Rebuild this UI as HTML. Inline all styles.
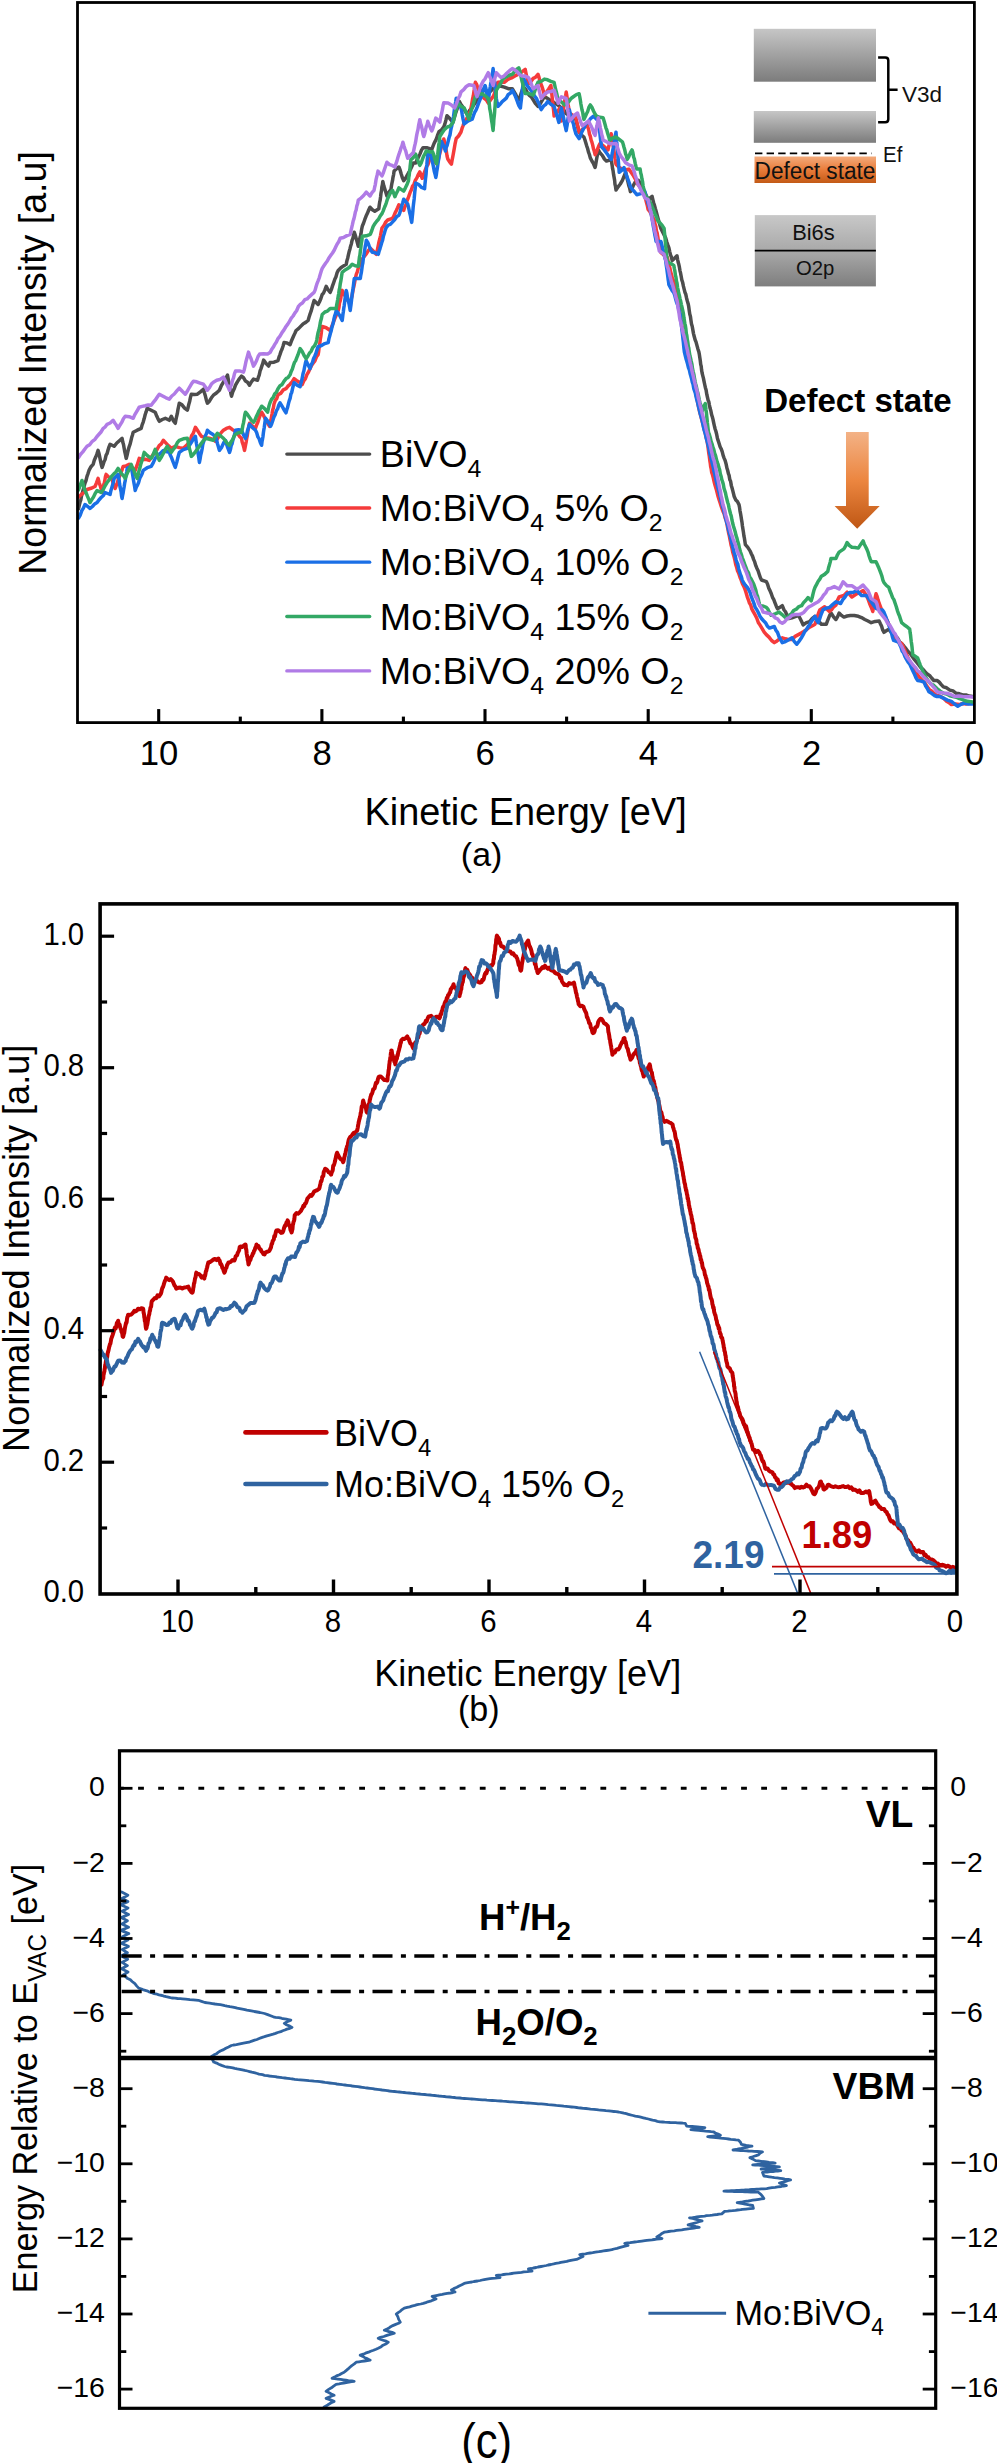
<!DOCTYPE html>
<html><head><meta charset="utf-8"><title>Figure</title>
<style>html,body{margin:0;padding:0;background:#fff;}svg{display:block;}</style>
</head><body>
<svg width="997" height="2463" viewBox="0 0 997 2463" font-family="'Liberation Sans', Arial, sans-serif">
<defs>
<linearGradient id="gGray" x1="0" y1="0" x2="0" y2="1"><stop offset="0" stop-color="#c6c6c6"/><stop offset="1" stop-color="#7c7c7c"/></linearGradient>
<linearGradient id="gGray2" x1="0" y1="0" x2="0" y2="1"><stop offset="0" stop-color="#c8c8c8"/><stop offset="1" stop-color="#a9a9a9"/></linearGradient>
<linearGradient id="gGray3" x1="0" y1="0" x2="0" y2="1"><stop offset="0" stop-color="#a9a9a9"/><stop offset="1" stop-color="#7e7e7e"/></linearGradient>
<linearGradient id="gOr" x1="0" y1="0" x2="0" y2="1"><stop offset="0" stop-color="#f3ab7c"/><stop offset="0.5" stop-color="#e97c3a"/><stop offset="1" stop-color="#c35a16"/></linearGradient>
<linearGradient id="gArr" x1="0" y1="0" x2="0" y2="1"><stop offset="0" stop-color="#f3b286"/><stop offset="0.5" stop-color="#ec8640"/><stop offset="1" stop-color="#bf5714"/></linearGradient>
</defs>
<rect width="997" height="2463" fill="#fff"/>
<g id="plot-a">
<polyline points="78.5,509 79.2,505.6 80,502.3 80.8,500 81.5,496 82.2,493.6 83,490.5 84,486.9 85,483.1 86,480.5 87,476.4 88,473.6 89,470.4 91,466.7 93.1,464.4 94.3,460.2 95.6,457.3 96.8,454.4 98.1,450.4 98.9,453.2 99.7,456.8 100.5,460.8 101.3,464.7 102.1,467.4 103.1,464.6 104.1,461.5 105.1,459.5 106.1,455.1 107.1,453.5 108.1,449.7 109.1,446.6 110.1,444.3 114.1,446.3 116.8,443 119.4,440.7 122.1,438.3 122.8,442.2 123.5,444.5 124.2,448.5 124.8,451.9 125.5,454.8 126.2,458.4 127,455.6 127.8,451.9 128.5,449 129.3,446.3 130.1,444.2 130.9,440.9 131.6,437.8 132.4,435.3 133.2,432.3 137.2,430.2 141.2,428.3 142.2,424.6 143.2,422.1 144.2,418.6 145.2,414.5 146.2,411.7 147.2,408.2 151.2,410.2 155.2,412.2 156.6,415.8 157.9,418.6 159.3,421.3 162.3,419.5 165.3,418.3 169.3,420.3 171.3,416.3 173.3,420.6 175.3,423.3 176,419.3 176.6,416.5 177.3,413.7 178,409.3 178.6,406.5 179.3,403.2 182,404.8 184.6,408.1 187.3,410.2 188.1,407.4 188.9,403.9 189.7,401.2 190.5,397.1 191.3,394.2 194.4,394.5 197.4,394.2 200.4,391.9 203.4,389.2 204.4,392.8 205.4,396.1 206.4,400.2 207.4,403.2 209.4,401.2 211.4,397.8 213.4,395.2 216.4,393 219.4,390.2 221.4,385.5 223.4,382.2 225.4,379 227.5,375.1 228.1,378.3 228.6,381.9 229.2,384.7 229.8,386.8 230.4,390 230.9,393.5 231.5,396.2 232.8,391.8 234.2,388.8 235.5,385.2 237.5,381.6 239.5,378.5 241.5,376.1 243.5,377.7 245.5,381.1 247.5,382.3 249.5,385.2 251.5,381.7 253.5,379.1 257.5,380.2 258.4,377.2 259.2,375.1 260.1,370.9 261,368.6 261.9,365.9 262.7,363.6 263.6,360.1 266.1,363.6 268.6,366.1 270,362.6 274,362.2 278,360.6 279,357.2 280,354.5 281,351.4 282,349.2 283,346.3 284,342.6 287.1,343 290.1,344.6 291.3,341.3 292.5,338.5 293.7,335.7 294.9,333.3 296.1,330.5 298.5,328.6 300.9,326.1 303.3,323.7 305.7,322.4 308.1,320.5 309.1,317 310.1,313.9 311.1,311.2 312.1,307.5 313.1,303.9 314.1,300.5 318.1,304.5 319.5,301.7 320.8,298.7 322.1,294.7 323.5,293.1 324.9,289.9 326.2,286.4 328.2,290 330.2,292.4 331.3,289.7 332.5,285.9 333.6,282.8 334.8,279.2 335.9,276.9 337.1,272.8 338.2,270.4 340.9,267.7 343.5,265.9 346.2,264.3 346.9,260.8 347.7,258.2 348.4,254.8 349.1,251.8 349.9,249.2 350.6,246.2 351.4,243.7 352.1,240.2 352.8,238.6 353.6,235.3 354.3,232.2 355.3,235.2 356.3,238.9 357.3,242.5 358.3,246.3 359,242.7 359.6,239 360.3,236.8 361,233.7 361.6,229.5 362.3,226.2 363.6,223 364.9,219.2 366.1,216.1 367.4,213.3 368.7,210 370,207.2 372.4,209.7 374.8,211.2 378.8,208.8 379.2,205.2 379.7,202 380.1,200.4 380.6,196.7 381,193.1 381.5,190.7 381.9,186.8 382.4,184.6 382.8,181.5 383.8,185.9 384.9,189.3 385.9,192.6 386.9,195.9 388.9,192.3 390.9,189.5 391.4,186.2 392,182.8 392.5,180.7 393,177.3 393.6,174.6 394.1,171.1 396.5,168.8 398.9,167 400.1,170 401.3,174.3 402.5,178.1 403.7,180.7 405.7,178.1 407.7,174.3 409.1,172 410.5,169.2 411.9,166.2 413.3,163 415.7,163 417.2,159.5 418.6,156.9 420.1,153.6 421.5,150.1 423,147.8 427.4,147.8 431.8,149.4 433,146.1 434.2,143.1 435.4,140.9 436.6,138.3 437.8,134.6 439,131.7 441.4,130 443.8,126.9 444.9,123.9 445.9,120.2 447,115.7 450,118.8 453,122.4 453.9,119 454.8,116 455.7,113 456.7,110 457.6,107.7 458.5,105.1 459.4,101.5 461,104.6 462.6,106.6 464.2,109.5 465.8,112.3 467.4,114.4 469.5,110.5 471.7,108.3 473.8,104.8 475.4,102.6 477,99.5 478.6,96.5 480.2,93.2 481.8,90.3 485.9,90.6 489.9,91.9 492,89.7 494.2,86.3 496.3,83.9 500.3,86 504.3,87.1 508.3,88.7 512.3,88.7 513.9,91.3 515.5,94.1 517.2,97.8 518.8,99.9 520,97.1 521.2,93 522.4,89.7 523.6,87.1 525.5,89.1 527.4,92.9 529.4,95.3 531.3,96.8 533.2,99.9 535.6,103.7 538,106.4 540.1,103.9 542.3,100.2 544.4,96.7 547.1,98.1 549.8,100 552.5,101.5 555,103.3 558.2,105.1 561.4,108.1 563.5,109.5 565.7,113.2 567.8,114.6 570.5,116.4 573.2,117.8 575.9,119.4 576.7,123.3 577.5,125.7 578.3,129.6 579.1,132.2 581.5,135.1 583.9,137 584.8,139.5 585.7,142.6 586.6,145.6 587.6,148.5 588.5,152.1 589.4,154.5 590.3,157.9 591.9,161 593.5,163.7 595.1,167.5 595.7,164.6 596.4,160.2 597,156.9 597.7,153.6 598.3,149.9 600.3,153.3 602.3,155.4 604.4,159 606.4,161.1 611.2,159.5 611.7,162.6 612.2,165.7 612.6,168.7 613.1,170.9 613.6,174.7 614.1,177.3 614.6,180.1 615,184.4 615.5,186.4 616,190 618.1,186.8 620.3,184 622.4,180.4 624,176.4 625.6,172.3 626.4,175.2 627.2,178.8 628,182 628.8,185.6 629.6,187.8 630.4,191.6 632,188.5 633.6,184.8 635.2,182 638.5,180.4 641.7,185.2 643,187.7 644.3,191.4 645.5,193.9 646.8,196.8 648.1,199.6 652.1,196.4 652.9,199.8 653.7,203 654.5,205.3 655.3,208.5 656.1,211.3 656.9,214.3 657.7,217.3 658.8,221.3 659.8,224.7 660.9,228.5 662.5,231.8 664.1,234.9 665.7,238.1 666.8,242 667.8,244.9 668.9,247.8 669.7,251.6 670.5,254.9 671.4,257 672.2,260.6 674.6,258.3 677,255.8 677.6,259.5 678.2,262.4 678.8,264.3 679.4,267.2 680,270.8 680.6,273.2 681.2,276.5 681.8,279.9 682.6,282.2 683.4,286.2 684.2,289.4 685,292.5 685.8,294.3 686.6,298.2 687.4,301.2 688.2,303.9 688.7,306.5 689.3,311 689.8,314.3 690.4,316.3 690.9,320 691.5,323.9 692.2,326.2 692.8,329.6 693.5,333.6 694.1,336 695.1,339.8 696,341.9 697,345.6 697.9,348.9 698.9,352.1 699.4,354.8 699.8,357.6 700.3,360.8 700.7,364.4 701.2,366.3 701.6,370.1 702.1,373 702.8,375.8 703.4,378.1 704.1,381.6 704.8,385 705.4,387.7 706.1,390 706.8,394.4 707.4,397 708.1,400.2 708.8,401.8 709.4,405 710.1,408.3 710.8,410.5 711.6,414.6 712.3,416.7 713,419.4 713.7,422.8 714.5,426.5 715.2,429.2 715.9,431.3 716.6,434 717.4,438.2 718.1,440.4 719.1,443.5 720.1,446.7 721.1,448.7 722.2,451.7 723.2,455.7 724.2,458.3 725.2,460.7 726.2,464.4 726.9,468 727.7,470.5 728.4,473.6 729.1,475.4 729.8,479.6 730.6,481.2 731.3,485.4 732,487.7 732.7,490.4 733.5,493.7 734.2,496.5 735.8,499.9 737.4,501.5 739,504.6 739.5,507.1 740,510.8 740.5,513.4 741,516.3 741.5,519.5 742,522.4 742.4,525.7 742.9,529 743.4,532 743.9,535.9 744.4,538.2 744.9,541.6 745.4,544.7 747.8,547.4 750.2,551.1 751.3,553.7 752.5,556.1 753.6,559.4 754.7,561.9 755.9,565.9 757,568.5 758.1,570.8 759.2,574.2 760.4,577.8 761.5,580 766.3,581.6 767.5,584 768.8,588.2 770,590.6 771.3,593.7 772.5,597.3 773.8,599.6 775,602.8 776.3,606.2 777.5,608.9 782.3,605.7 783.9,609.7 785.5,611.8 787.2,615.8 788.8,618.5 792,617.8 795.2,616.6 798.4,615.3 800,618.3 801.6,621.5 803.2,624.9 806.4,622.6 809.6,621.7 812.3,618.4 815,616.3 817.1,618.3 819.3,622 821.4,624.3 826.2,624.3 827.4,621.1 828.6,618.2 829.8,615.2 831,613.1 833.5,616.8 835.9,619.5 837.5,616.9 839.1,613.1 841.5,615.4 843.9,617.1 847.1,616 850.3,615.5 854.3,615.5 858.3,616.3 861.5,617.6 864.8,619.5 868,621 871.2,622.7 875.2,621.4 879.2,621.1 880.4,623.8 881.6,626.3 882.8,630.2 884,632.3 888.8,629.1 890.9,632 893.1,633.5 895.2,635.6 897.4,637.9 899.5,641.7 901.7,643.6 903.8,646 906,648.7 908.1,651.6 910.2,653.5 912.4,656.7 914.5,659.6 916.6,662.2 918.8,664.9 920.9,667.6 923,669.3 925.2,671.9 927.3,674.1 929.5,675.4 931.6,678 933.8,680.5 937,680.5 939.1,682 941.3,684.6 943.4,686.9 946.6,687.8 949.8,690.1 953,690.9 956.2,693.3 959.5,693.8 962.7,694.9 966,695 969.2,696.1 972.5,696.5" fill="none" stroke="#4d4d4d" stroke-width="3.5" stroke-linejoin="round" stroke-linecap="round" />
<polyline points="78.5,497 81.3,494.5 84.2,492.4 87,489.5 91,488.3 95,486.5 96.5,482.8 98.1,478.4 99.1,482.5 100.1,485.3 101.1,488.7 102.1,492.5 102.8,490.3 103.4,485.9 104.1,483.8 104.8,480.7 105.4,476.7 106.1,474.4 109.1,477.4 112.1,479.4 113.1,483.1 114.1,485.7 115.1,488.5 116.2,485.7 117.4,482.7 118.5,478.5 119.7,475.9 120.8,472.7 122,470.1 123.1,466.4 126.1,465.9 129.2,464.4 132.2,467.9 135.2,470.4 136.2,467.5 137.2,465 138.2,461.7 139.2,458.4 142.5,459.4 145.9,459.3 149.2,460.4 151.2,457 153.2,454.5 155.2,452.4 157.2,449.2 159.2,445.7 161.3,443.9 163.3,440.3 166,443.1 168.6,445.9 171.3,448.4 175.3,446.3 179.3,447.6 183.3,448.4 186.3,445.6 189.3,442.3 190.5,439.3 191.7,435.5 193,433.8 194.2,430.7 195.4,427.3 197.4,430.3 199.4,433.4 201.4,436.3 205.4,437.6 209.4,438.3 212.4,439.1 215.4,441.3 217.4,438.9 219.4,435.4 221.4,432.4 223.4,430.3 226.4,428.4 229.5,427.3 232.5,429.7 235.5,431.3 237.5,433.2 239.5,436.4 241.5,438.3 242.2,442.1 243,444.3 243.8,447.2 244.5,450.4 245.1,447.4 245.6,444.7 246.2,441.8 246.7,438.5 247.3,435.6 247.8,431.7 248.4,428.8 248.9,425.9 249.5,423.3 252.5,426.2 255.5,428.3 256.7,424.8 257.9,422 259.2,417.9 260.4,414.7 261.6,412.2 263.2,414.7 264.8,418.1 266.4,421 268,423.8 269.6,426.3 270.2,422.8 270.9,420 271.5,416.7 272.1,413.5 272.7,409.8 273.4,407.8 274,404 275.3,400.4 276.7,398.6 278,394.7 280.7,393.4 283.3,389.9 286,388.7 288,386.1 290.1,384.2 292.1,381.9 294.1,378.7 296.8,380.6 299.4,382.3 302.1,384.7 303.7,381 305.3,379 306.9,374.6 308.5,372 310.1,368.6 311.7,365.2 313.3,363 314.9,360.9 316.5,356.8 318.1,354.6 318.6,352 319,348.4 319.5,345.9 319.9,342.4 320.4,338.6 320.8,336.5 321.3,332.7 321.7,328.9 322.2,326.5 326.2,327.7 330.2,330.5 331.3,327.6 332.5,324.7 333.6,321.6 334.8,318.5 335.9,316 337.1,313.1 338.2,310.5 338.9,307.7 339.5,303 340.2,300.9 340.9,297.6 341.5,293.1 342.2,290.4 343.8,293.9 345.4,296.4 347,299.5 348.6,301.3 350.2,304.5 350.8,301.3 351.4,298.3 352,296.3 352.6,292.6 353.2,289.2 353.9,286.3 354.5,283.1 355.1,279.7 355.7,276.8 356.3,274.4 357.3,271.9 358.3,268 359.3,266 360.3,262.3 362.3,259.1 364.3,256.3 366.3,253.9 368.3,250.6 370.3,248.3 373.3,251.1 376.3,254.3 377,251.7 377.7,248.3 378.4,244.9 379.1,241.4 379.9,238.5 380.6,235.3 381.3,231.4 382,228 383.9,225.7 385.8,221.9 387.7,220 392.5,218.4 393.8,216.1 395.1,212.9 396.3,210.6 397.6,207.8 398.9,204.8 401.3,207.3 403.7,210.4 404.8,206.7 405.9,205.1 407,200.8 408.1,198.3 409.2,195.1 410.3,192 411.4,189.7 412.5,186.3 414,184.2 415.4,180.2 416.9,177.9 418.3,174.5 419.8,171.9 421,175.2 422.2,178.3 423.3,175.3 424.5,172 425.6,169.1 426.8,166.3 427.9,164.6 429.1,161.1 430.2,158.2 433.5,160.7 436.9,164.1 437.8,161.6 438.6,158.6 439.5,154.6 440.4,151 441.2,147.9 442.1,144.6 442.9,141.9 443.8,139 444.5,141.7 445.1,145.2 445.8,148.6 446.5,152.4 447.1,156.3 447.8,159 449.6,161.9 451.4,164.1 452,160.8 452.6,157.6 453.2,154.5 453.8,151.1 454.4,147.8 455,144.2 455.6,141.3 456.2,138.5 458.6,136 461,132 462.1,128.2 463.1,125.6 464.2,122.4 465.8,119.8 467.4,117.4 469,113.5 470.6,111.2 471.1,107.6 471.7,104.4 472.2,101.4 472.7,98.3 473.3,95.9 473.8,92.5 474.3,89.3 474.9,84.7 475.4,82.3 476.6,84.4 477.8,88.2 479,91.3 480.2,93.5 482.2,95.9 484.2,98.4 486.3,99.9 488.3,103.1 490.7,99.7 493.1,96.7 494.1,94.5 495,91.5 496,88.6 496.9,85.9 497.9,82.3 501.1,81.9 504.3,82.3 507,80.1 509.6,78.5 512.3,77.5 514.9,75.9 517.5,74.6 520,73.3 522.6,71.4 525.2,69.4 526,73.3 526.8,77.1 527.6,80.2 528.4,83.9 530.8,81.6 533.2,78.4 535.6,77.2 538,74.3 538.9,76.8 539.8,80.9 540.7,83.4 541.7,85.9 542.6,88.6 543.5,91.7 544.4,95.1 546.6,92.1 548.7,89 550.9,85.5 551.2,87.9 551.5,90.9 551.9,94.7 552.2,97.8 552.5,100.6 552.8,103.4 553.1,107 553.5,109.1 553.8,112.6 554.1,116 556,113.3 557.8,111.4 559.7,108 560.1,111.5 560.5,115.1 561,117.7 561.4,121 561.9,117.4 562.5,114.2 563,112.1 563.5,108.5 564.1,104.6 564.6,101 565.1,98.5 565.7,95.6 566.2,92.1 566.7,95 567.1,97.7 567.6,101.3 568,104.7 568.5,106.6 568.9,109.3 569.4,113 572.6,115.1 575.9,117.8 576.7,121.3 577.5,125.3 578.3,128.1 579.1,132.2 581.8,130 584.4,127.2 587.1,124.2 587.9,127.3 588.7,129.8 589.5,134.1 590.3,136.1 591.1,140 591.9,142.1 592.7,145.1 593.5,149 594.3,151.3 595.1,154.7 596.3,152.6 597.5,149.1 598.8,145.8 600,143.5 602.7,145.2 605.3,147.6 608,149.9 608.6,146.9 609.3,144.2 609.9,139.7 610.6,136.8 611.2,133.8 611.7,136.4 612.2,140.7 612.6,142.4 613.1,145.3 613.6,148.3 614.1,151.9 614.6,155.8 615,158.8 615.5,161.6 616,164.3 619.2,167.5 622.4,169.1 625.6,169.8 628.8,169.1 630.9,172.1 633.1,175.1 635.2,178.8 636.8,182.4 638.4,185.1 640,186.9 641.7,190.8 643.3,193.3 644.9,196.4 645.7,199.4 646.5,202.6 647.3,205.5 648.1,209.3 649.7,211.3 651.3,214.5 652.9,217.5 654.5,220.5 655.1,224.4 655.8,226.3 656.4,230.9 657.1,232.9 657.7,236.3 658.3,240.3 659,243.5 659.6,246.1 660.3,248.7 660.9,252.6 664.1,255 667.3,257.4 668.1,260.8 669,265.3 669.8,267.7 670.6,271.8 671.5,274.6 672.4,278.4 673.3,280 674.3,283.6 675.2,287.2 676.1,290.1 677,292.7 677.4,295 677.9,298 678.3,301.1 678.8,305.5 679.2,307.5 679.7,311.3 680.1,314.6 680.6,316.7 681,320 681.5,322.8 682,327.2 682.5,329.8 683,332.5 683.5,336.4 684,339 684.5,342.1 685,344.9 685.5,349.3 686,352.1 686.8,355.8 687.6,358.3 688.4,361.8 689.2,363.4 690.1,366.7 690.9,370.1 691.7,373.9 692.5,376.2 693.1,380.1 693.8,382.4 694.4,385.4 695.1,388.9 695.7,392.2 696.3,396.1 697,398.2 697.6,402.4 698.3,405.5 698.9,408.3 699.6,411.7 700.4,414.6 701.1,417.2 701.8,419.7 702.5,422.6 703.3,425.6 704,429.2 704.7,431 705.4,434.1 706.2,437.9 706.9,440.4 707.4,443.2 707.9,446.1 708.3,449.3 708.8,453.3 709.3,456.2 709.8,460.4 710.3,463.5 710.7,466.9 711.2,468.9 711.7,472.5 712.5,474.8 713.3,477.9 714.1,481.5 714.9,484.8 715.7,487.4 716.5,490.1 717.3,493.4 718.1,496.5 719.1,499.7 720.1,502.8 721.1,505.9 722.2,509.1 723.2,511.8 724.2,514 725.2,518.1 726.2,520.6 726.8,523.3 727.4,526.7 728,529.4 728.6,533 729.2,535.2 729.8,538.3 730.4,541.3 731,544.7 731.8,547.4 732.6,551.7 733.4,554.5 734.2,557.3 735,560.6 735.8,564.8 736.6,567.2 737.4,570.4 738.7,573.2 740,577.3 741.2,580.2 742.5,584 743.8,586.4 744.9,589 746.1,592.8 747.2,596.6 748.4,599.8 749.5,603.1 750.7,605 751.8,608.9 753.4,611.8 755,614.7 756.7,618 758.3,622.5 759.9,624.9 762,628.3 764.2,632.1 766.3,634.6 769,637.1 771.6,640.5 774.3,642.6 777,640.9 779.6,639 782.3,637.8 785.5,638.8 788.8,639.6 792,639.4 795.2,636.4 798.4,634.6 801.1,633.1 803.7,631.5 806.4,629.7 809.2,627.4 812,626 815,624.3 816,621.2 816.9,618 817.9,615.2 818.8,612.4 819.8,609.9 824.6,606.7 827,609.3 829.4,611.5 831.6,609.6 833.7,606.8 835.9,605.1 837.5,600.3 839.1,597 843.9,595.4 847.1,592.2 849.5,594.3 851.9,597 856.7,593.8 859.9,592.5 863.1,590.6 866.4,595.4 868,598.9 869.6,603.5 871.2,607.2 872.8,611.5 873.4,607.5 874.1,604.9 874.7,601 875.4,596.6 876,593.8 877.1,596.4 878.1,600.1 879.2,603.5 880.8,607.6 882.4,611.5 884,614.9 885.6,617.2 887.2,620.6 888.8,624.3 890.1,627.5 891.4,630 892.6,632.7 893.9,635.6 895.2,638.8 898.5,641.9 901.7,643.6 903,646.2 904.3,649.5 905.5,652 906.8,655 908.1,658 909.7,661.8 911.3,665.2 912.9,667.5 914.5,670.9 916.6,673.1 918.8,676.6 920.9,678.9 923,681.1 925.2,683.4 927.3,686.9 929.5,689.7 931.6,691 933.8,693.3 937,695.4 940.2,696.3 943.4,698.1 946.1,700.9 948.7,702.4 951.4,704.6 955.4,704.1 959.4,704.6 962.7,703.4 966,703.9 969.2,703.6 972.5,703" fill="none" stroke="#f53b3b" stroke-width="3.5" stroke-linejoin="round" stroke-linecap="round" />
<polyline points="78.5,518 80.1,515.3 81.8,510.6 83.4,508.1 85,504.5 87.5,506.3 90,508.5 92.4,506.5 94.7,503.9 97.1,502.5 99.1,499.7 101.1,497.5 103.1,495.7 105.1,492.5 110.1,494.5 110.9,490.7 111.7,488 112.5,485.3 113.3,482.4 114.1,478.4 118.1,474.4 118.6,476.9 119.1,479.8 119.6,484.1 120.1,487.2 120.6,489.4 121.1,491.8 121.6,496.2 122.1,498.5 122.6,495.3 123.1,493.1 123.6,489.7 124.1,487 124.7,482.9 125.2,480.9 125.7,477 126.2,474.3 126.7,472 127.2,468.4 131.2,466.4 131.7,469.9 132.2,471.9 132.7,475 133.2,478.3 133.7,481.5 134.2,484.3 134.7,486.9 135.2,490.5 136.3,487.2 137.5,485.1 138.6,482.5 139.8,478.3 140.9,476.2 142.1,473.7 143.2,470.4 147.2,467.7 151.2,466.4 153.2,462.9 155.2,458.4 157.9,455.1 160.6,453.2 163.3,450.4 166.3,451.5 169.3,452.4 170.5,455.6 171.7,458.1 172.9,461.3 174.1,464.5 175.3,467.4 176.1,464.3 176.9,461.7 177.7,458.3 178.5,455.3 179.3,452.4 183.3,449.6 187.3,448.4 189.3,445.6 191.4,442.3 193.4,438.9 195.4,436.3 195.9,440 196.4,443.3 196.9,446 197.4,448.8 197.9,452.6 198.4,455.2 198.9,458.5 199.4,462.4 200.1,458.9 200.7,455 201.4,452.3 202.1,449 202.7,444.9 203.4,442.3 204.4,439.5 205.4,435.6 206.4,433.7 207.4,430.3 210.1,432.7 212.7,434.3 215.4,436.3 216.4,439.1 217.4,443.4 218.4,446.7 219.4,450.4 221.4,447.8 223.5,443.1 225.5,440.3 226.5,443.9 227.5,447.1 228.5,449.7 229.5,452.4 230.4,449.7 231.2,445.6 232.1,443.7 232.9,439.8 233.8,437.3 234.6,434.1 235.5,430.3 238.5,429.8 241.5,430.3 243.5,434.8 245.5,438.3 246.5,435.5 247.5,430.6 248.5,427.6 249.5,424.3 252.5,427.7 255.5,430.3 256.7,432.8 257.9,436.9 259.2,438.9 260.4,442.8 261.6,445.3 262,441.7 262.5,439.3 262.9,437 263.4,432.8 263.8,429.9 264.3,427.3 264.7,424 265.2,420.6 265.6,418.3 267.3,420.5 268.9,423.1 270.6,426.3 271.7,423.8 272.9,420.3 274,416.8 275.2,414.6 276.4,410.7 277.6,408.9 278.8,405 280,402.8 282,406.2 284,409.7 286,412.8 286.8,409.6 287.6,407.4 288.4,403.9 289.2,400.9 290.1,398.4 290.9,394.1 291.7,392.5 292.5,388.9 293.3,385.5 294.1,382.7 297.1,385.2 300.1,386.7 300.9,383.1 301.6,381 302.4,377 303.1,373.4 303.9,370.8 304.6,367 305.4,363.3 306.1,360.6 308.1,365 310.1,368.6 311.2,364.7 312.4,362.8 313.5,358.8 314.7,356.3 315.8,353.7 317,349.9 318.1,346.6 321.5,345.5 324.8,343.6 328.2,342.6 328.9,338.9 329.7,336 330.4,333.3 331.1,331.1 331.8,327.9 332.6,325.1 333.3,322.8 334,318.7 334.7,315.9 335.5,313.7 336.2,310.5 338.2,313.1 340.2,316.4 342.2,320.5 342.6,317.3 343,313.9 343.4,311.2 343.8,308 344.2,305.6 344.6,302.6 345,299 345.4,296.6 345.8,293.4 346.2,290.4 346.9,293.2 347.5,297.8 348.2,300 348.9,303.2 349.5,306.5 350.2,310.5 350.6,307.5 351,304.7 351.4,301.3 351.8,297.5 352.2,294.1 352.7,290.5 353.1,288.3 353.5,284.9 353.9,281.4 354.3,278.4 357.3,278.6 360.3,278.4 360.8,275.1 361.3,272.7 361.8,269.2 362.3,265.3 362.8,263.2 363.3,258.6 363.8,256.2 364.3,252.8 364.8,249.4 365.3,245.9 365.8,243.9 366.3,240.3 367.8,242.5 369.3,246.4 370.8,250 372.3,252.3 375.3,252.7 378.3,254.3 379.2,250.9 380,248.6 380.9,245.5 381.7,242.8 382.6,240.2 383.4,236.2 384.3,233.5 385.1,230.6 386,228 388.1,225.1 390.3,224.4 392.4,222.1 394.6,219.8 396.8,216.5 398.9,215.2 399.9,212.6 400.8,209.2 401.8,205.5 402.7,202.8 403.7,199.2 405.7,201.5 407.7,204 408.4,206.6 409,209.5 409.7,212.8 410.4,215.5 411,219.1 411.7,222.4 412,219.8 412.3,216.7 412.6,213.9 412.9,210.6 413.2,206.9 413.5,204.3 413.9,201.1 414.2,198.7 414.5,195.2 414.8,191.8 415.1,189.4 415.4,186.9 415.7,183.1 418.7,184.5 421.6,187.4 424.6,188.7 424.9,184.8 425.2,182 425.5,178.9 425.8,176.5 426.1,173.7 426.3,170.3 426.6,166.5 426.9,164.2 427.2,160.2 427.5,156.9 427.8,154.2 431,155 431.7,158.9 432.4,161.6 433.1,165 433.7,168.1 434.4,171.8 435.1,174.2 435.8,177.5 436.3,175 436.7,171.8 437.2,169 437.7,165.4 438.1,162.8 438.6,159.6 439.1,156.1 439.5,153 440,150.6 440.5,146.7 440.9,145.1 441.4,141.4 442.7,144 444.1,147 445.4,151 446.3,147.2 447.2,145.2 448.2,141.1 449.1,137.5 450,134.9 450.6,131 451.2,127.9 451.8,125.8 452.4,122.6 453,119.2 453.5,116.5 453.9,113.6 454.4,109.5 454.8,107.4 455.3,104.1 455.7,101.8 456.2,98.3 457.8,102 459.4,105.4 461,108 461.6,110.5 462.3,115 462.9,118.3 463.6,121.5 464.2,124 466.9,121.8 469.5,120.3 472.2,119.2 473.5,115.4 474.8,112 476,110.1 477.3,106.8 478.6,103.1 479.7,100.4 480.8,97.8 481.9,94.5 482.9,91 484,87.8 485.1,85.5 485.9,88.5 486.7,93.1 487.5,95.8 488.3,99.9 488.8,96.5 489.3,93.5 489.7,89.7 490.2,87 490.7,83.9 491.2,81.5 491.7,77.8 492.1,74.6 492.6,72.5 493.1,68.6 493.5,71.9 493.8,75.8 494.2,78.7 494.5,81 494.9,85 495.2,88.3 495.6,92.1 495.9,94.8 496.3,98.3 497.1,102.7 497.9,106.4 500,104.3 502.2,101.6 504.3,99.9 506.3,98.1 508.3,94.4 510.3,93.2 512.3,90.3 513.6,92.7 515,95.4 516.3,98.7 517.7,102.5 519,105.8 520.4,108 520.8,104 521.1,101.6 521.5,98.4 521.8,95.6 522.2,91.4 522.5,88.7 522.9,85.3 523.2,82.8 523.6,79.1 525.2,81.4 526.8,85.1 528.4,87.1 530.4,89.6 532.4,92.2 534.4,95.8 536.4,98.3 537.6,101.1 538.8,103.3 540,107 541.2,109.6 543.4,106.2 545.5,104.7 547.7,101.5 550.9,104.3 554.1,106.4 555.1,110.1 556,113 557,115.8 557.9,119 558.9,122.4 559.5,118.7 560.1,115.9 560.8,111 561.4,108.1 562.1,111.9 562.8,113.8 563.5,117.3 564.1,120.6 564.8,124.8 565.5,127.4 566.2,130.6 566.7,127.4 567.1,125.3 567.6,121.3 568,118.7 568.5,115.8 568.9,113.2 569.4,109.8 570.2,113.2 571,116 571.8,118.6 572.6,121.5 573.5,124.2 574.3,128.3 575.1,131.1 575.9,133.8 579.1,138.6 580.4,136.1 581.7,132.3 582.9,129.9 584.2,127.5 585.5,124.2 588.2,121.7 590.8,118.3 593.5,116.2 595.9,118.5 598.3,121 598.7,124.8 599.1,127 599.5,130.1 599.9,133.5 600.3,137.4 600.7,140.8 601.1,142.9 601.5,146.7 603.4,148.7 605.4,151.4 607.3,154.1 609.3,157 611.2,159.5 611.7,155.9 612.3,153.2 612.8,149.9 613.3,148.1 613.9,144.7 614.4,140.7 614.9,139 615.5,134.6 616,132.2 616.2,135.1 616.5,139.1 616.7,141.9 617,144.9 617.2,147.5 617.5,150.2 617.7,154 618,156.2 618.2,159.5 618.5,162.9 618.7,165.4 619,169.1 619.2,172.3 621.6,170.4 624,167.5 625.1,171 626.1,173.9 627.2,177.4 628.3,180.3 629.3,183 630.4,186.8 632.5,189.6 634.7,192 636.8,194.8 640.8,193.6 644.9,191.6 645.8,195.5 646.7,197.9 647.6,201.4 648.6,204.9 649.5,207.5 650.4,210.5 651.3,214.1 651.8,217.5 652.4,220.8 652.9,223.6 653.4,226.6 654,229.8 654.5,232.6 655,235.6 655.6,238.3 656.1,241.4 660.9,241.4 661.7,244.3 662.5,248 663.3,250.4 664.1,254.1 664.9,257.9 665.7,260.6 666.1,264 666.5,266.8 666.9,269.2 667.3,272.5 667.7,275.6 668.1,278.9 668.5,281.5 668.9,284.7 670.5,287.6 672.2,290.7 673.8,292.7 674.7,295.2 675.6,298.9 676.5,302.1 677.5,304.5 678.4,307.6 679.3,311.4 680.2,313.6 680.6,316.1 680.9,320.1 681.2,322.7 681.6,326.9 682,330.3 682.3,332.9 682.6,335.4 683,339.4 683.4,342.5 683.7,346 684,348.9 684.4,352.1 685.2,355.3 686,358.7 686.8,361.2 687.6,364 688.5,367.9 689.3,369.7 690.1,373.5 690.9,376.2 691.6,378.9 692.4,382.5 693.1,384.4 693.8,388.6 694.5,390.6 695.3,393 696,396.3 696.7,399.4 697.4,401.7 698.2,405.3 698.9,408.3 699.6,411.1 700.4,414.5 701.1,416.8 701.8,419.6 702.5,422.4 703.3,426.2 704,429.4 704.7,431.7 705.4,434.1 706.2,438 706.9,440.4 707.6,443.2 708.3,446 709,448.8 709.7,452.9 710.4,455.9 711.1,458.7 711.8,461.4 712.5,464.5 713.2,467 713.9,471.2 714.6,473.2 715.3,476.7 716,480 716.7,483 717.4,485.4 718.1,488.5 718.8,491.1 719.6,494.4 720.3,496.7 721,500.7 721.8,502.9 722.5,506.6 723.3,508.6 724,511.6 724.7,514.4 725.5,517.6 726.2,520.6 726.9,523 727.7,525.6 728.4,529.7 729.1,531.9 729.8,534.8 730.6,537.8 731.3,541 732,543.8 732.7,547.1 733.5,550 734.2,552.7 735.1,555.5 736,559.5 736.9,562.4 737.8,564.1 738.6,568.4 739.5,571.5 740.4,574.4 741.3,576.4 742.2,580 743.8,583.1 745.4,585.3 747,586.9 748.6,589.5 750.2,592.8 751.2,596.4 752.2,598.8 753.1,601.1 754.1,603.8 755.1,607.3 756.7,609.5 758.3,612.5 759.9,616.1 761.5,618.5 763.5,620.7 765.5,622.7 767.5,626.3 769.5,628.1 774.3,626.5 775.9,630.2 777.5,632.4 779.1,636.8 780.7,639.6 782.3,642.6 785.5,641.5 788.8,639.7 792,637.8 794.4,641.6 796.8,644.2 798.9,641.5 801.1,638.3 803.2,634.6 804.8,631.5 806.4,629.7 808,626.9 809.6,624.7 811.2,621.7 813.1,618.9 815,616.3 816.6,620.1 818.2,622.7 819.4,619.6 820.6,615.9 821.8,612.7 823,609.9 826.2,608.1 829.4,607.5 832.6,604.6 835.9,601.8 840.7,603.5 842.8,599.6 845,597 847.1,593.8 850.3,592.4 853.5,592.2 856.7,590.6 859.1,593 861.5,595.4 866.4,595.4 868.8,598.6 871.2,601.8 873.6,605.1 876,608.3 879.2,609.7 882.4,609.9 884,612.3 885.6,616.3 886.8,620 888,622.6 889.2,626 890.4,629.1 891.5,633.1 892.5,637.2 893.6,640.4 898.5,642 899.8,644.7 901.1,647.6 902.3,651.4 903.6,652.8 904.9,656.4 906.5,659.4 908.1,662.2 909.7,664 911.3,667.6 912.9,671 914.5,674.3 916.1,678 917.7,680.5 920.9,681 924.1,682.1 925.7,686.1 927.3,688.5 928.9,691.7 931.6,693.3 934.3,695.5 937,696.5 940.2,696.6 943.4,698.1 947.4,700.1 951.4,701.4 954.6,704 957.8,706.2 961,704.3 964.3,703 968.4,704.1 972.5,704" fill="none" stroke="#1a6fe6" stroke-width="3.5" stroke-linejoin="round" stroke-linecap="round" />
<polyline points="78.5,490 79.7,486.6 80.8,483.6 82,480.5 83,483.9 84,487.6 85,490.5 86.2,493 87.5,496.4 88.8,499.4 90,502.5 91.8,499.6 93.5,497 95.3,493.2 97.1,490.5 101.1,492.5 103.1,489.7 105.1,485.7 107.1,482.5 109.3,479.7 111.5,476.5 113.7,474.1 115.9,472 118.1,468.4 119.9,471.1 121.7,473.9 123.4,475.6 125.2,478.4 126.4,475.3 127.6,472.5 128.8,470.1 130,467.4 131.2,464.4 132.4,467.7 133.6,469.3 134.8,473.2 136,476.2 137.2,478.4 138.1,475.2 138.9,471.2 139.8,468.3 140.7,464.6 141.6,461.7 142.4,459.6 143.3,455.8 144.2,452.4 146.5,454.7 148.9,456.9 151.2,458.4 152.5,456.1 153.9,452.6 155.2,449.4 156.6,453.3 157.9,456.9 159.3,460.4 160.9,457.9 162.5,454.9 164.1,452.2 165.7,448.7 167.3,446.3 169.3,449.6 171.3,452.4 173.3,449.3 175.3,446.8 177.3,442.7 179.3,440.3 183.3,438.8 187.3,438.3 188,440.6 188.6,444.8 189.3,448 190,450.6 190.6,453.2 191.3,456.4 193.3,454.4 195.4,451.8 197.4,448.9 199.4,446.3 201.4,443.2 203.4,440.6 205.4,438.3 209.4,439.2 213.4,440.3 215.4,436.5 217.4,433.3 220.4,435.7 223.4,438.3 225.4,440.9 227.5,443.7 229.5,445.3 231,441.8 232.5,439.9 234,436.3 235.5,434.3 238.5,432.7 241.5,432.3 242.2,429.4 242.8,425.7 243.5,422.9 244.2,418.8 244.8,414.8 245.5,412.2 247.5,414.5 249.5,417.4 251.5,420.5 253.5,422.3 254.8,420.4 256.2,416.9 257.6,414.1 258.9,410.9 260.2,409.1 261.6,406.2 264.6,408.7 267.6,412.2 268.4,408.5 269.2,405.2 270,402.8 271.6,399.2 273.2,397.5 274.8,393.7 276.4,392.3 278,388.7 280,385.7 282,384.6 284.1,381.1 286.1,378.6 288.1,377.4 290.1,374.7 291.2,371.4 292.3,369.3 293.4,365.5 294.5,362.4 295.7,360.6 296.8,357.6 297.9,355 299,351.9 300.1,348.6 302.1,351.3 304.1,355.5 306.1,358.6 307.8,356.3 309.4,353.2 311.1,351.3 312.8,347.5 314.4,346 316.1,342.6 316.8,339.8 317.5,335.6 318.1,332.5 318.8,330.4 319.5,327.5 320.2,323.2 320.8,320.4 321.5,318 322.2,314.5 324.9,312 327.5,311.1 330.2,308.5 333.2,308.5 336.2,308.5 336.7,304.8 337.2,302.3 337.7,299.6 338.2,296.4 338.7,293.7 339.2,289.9 339.7,287.9 340.2,284.2 340.7,281.7 341.2,278.6 341.7,275.3 342.2,272.4 344.7,270.2 347.2,268.8 349.7,267 352.2,264.3 355.2,265.8 358.3,266.3 358.7,263.4 359.1,260 359.5,256.6 359.9,255.1 360.3,251.6 360.7,248.8 361.1,245 361.5,242.5 361.9,240.1 362.3,236.3 366.3,235.8 370.3,234.3 371.8,230.5 373.2,226.4 375,223.5 376.7,221.2 378.5,219.3 380.2,216 382,213.6 383.1,211.1 384.2,208.1 385.2,205.8 386.3,202.8 387.4,199.2 388.5,196.7 390.5,192.7 392.5,190.3 393.7,193.1 394.9,196.7 396.2,193.6 397.6,191 398.9,187.9 403.7,191.1 405.3,188.1 406.9,184.8 408.5,180.7 408.8,177 409.2,175.3 409.5,172.2 409.9,169.3 410.2,165.9 410.6,162.4 410.9,159.8 413.3,157.6 415.7,154.2 417.1,158.4 418.4,162 419.8,165.4 421.1,163.2 422.4,159.4 423.6,156.1 424.9,154 426.2,151 429.4,151.9 432.6,151.8 433.6,154.3 434.6,158.2 435.6,161.5 436.6,163.8 437,160.3 437.3,157.9 437.7,155 438,151.6 438.4,148.2 438.7,145.2 439.1,143 439.4,140 439.8,136.5 442.2,132.8 444.6,129.3 447.3,127 450,126.1 453,122.4 453.8,119.7 454.6,116.4 455.4,112.3 456.2,109.7 457,107 457.8,103.1 461,106.2 464.2,108 465.4,110.8 466.6,113.6 467.8,116.5 469,119.2 469.9,115.5 470.8,112.3 471.7,109 472.7,106.7 473.6,102.9 474.5,100 475.4,96.7 478.6,94.9 481.8,93.5 485.1,95.9 488.3,98.3 488.8,100.9 489.3,104 489.7,108.7 490.2,110.9 490.7,113.7 491.2,117.8 491.7,121.2 492.1,123.4 492.6,127.3 493.1,130.4 493.3,127.1 493.6,124.3 493.8,120.4 494.1,117.3 494.3,115.8 494.6,112.5 494.8,108.8 495.1,105.8 495.3,102.3 495.6,100 495.8,96.4 496.1,94.1 496.3,90.3 497.9,87.9 499.5,85.2 501.1,82.6 502.7,79.1 505.9,77.1 509.1,75.2 512.3,74.3 514.5,71.7 516.6,69.5 518.8,67.8 519.6,70.3 520.4,73.5 521.2,77.5 522,81.2 522.8,83.8 523.6,87.8 524.4,90.9 525.2,93.5 529.2,93.6 533.2,95.1 534.4,92.1 535.6,88.5 536.8,84.9 538,82.3 541.2,81.4 544.4,79.1 547.6,79.8 550.9,81.3 554.1,82.3 554.8,85.5 555.5,89 556.2,91.5 556.8,94 557.5,97.1 558.2,100.1 561.4,102 564.6,104.9 566.7,103.5 568.9,101.4 571,98.5 573.7,96.5 576.4,94.6 579.1,93.7 579.7,96.5 580.3,99.9 580.9,104 581.5,107.2 582.1,110.3 582.7,112.3 583.3,116.6 583.9,119.4 585.2,116.8 586.5,113.8 587.7,111.5 589,107.1 590.3,104.9 591.9,107.2 593.5,111 595.1,114.1 596.7,116.2 599.9,117.3 603.1,117.8 604,120.7 605,124.3 605.9,127.8 606.8,130 607.7,133.5 608.7,136.6 609.6,140.2 612.8,138 616,137 619.2,139.4 622.4,141.8 623.2,144.2 624,147.3 624.8,150.1 625.6,153.9 626.4,155.8 627.2,159.5 628.8,156.6 630.4,152.6 632,149.9 632.8,152.4 633.6,157 634.4,159.1 635.2,163.4 636,166.5 636.8,169.1 640.1,169.1 640.7,172.9 641.3,174.9 641.9,178.7 642.5,181.3 643.1,185.8 643.7,188.9 644.3,191.8 644.9,194.8 647,197.9 649.2,200.9 651.3,204.4 652.6,208.1 653.9,210.8 655.1,214.3 656.4,216.7 657.7,220.5 659.8,222.7 662,225.1 664.1,228.5 664.4,231.9 664.7,234.7 665,237.1 665.3,241.3 665.6,243.4 665.8,246.7 666.1,249.4 666.4,252.6 666.7,256.6 667,258.9 667.3,262.2 670.5,263.3 673.8,265.4 674.3,268.4 674.9,271.2 675.4,275.1 675.9,276.9 676.5,281.3 677,282.9 677.5,287.3 678.1,289.9 678.6,292.7 679.3,295.2 680,298.6 680.7,301.3 681.3,304.3 682,307.2 682.7,310.4 683.4,313.6 683.9,317.6 684.4,320.8 684.9,323.9 685.4,325.8 685.9,329.3 686.3,333.5 686.8,335.4 687.3,339.6 687.8,342.1 688.3,346.4 688.8,348.1 689.3,352.1 689.9,355.8 690.6,358.3 691.2,361.2 691.9,364.1 692.5,368.7 693.1,371.4 693.8,374.1 694.4,377.7 695.1,381.6 695.7,384.2 696.4,386.8 697.1,390.4 697.8,392.7 698.5,395.8 699.3,399.8 700,402.7 700.7,404.9 701.4,407.8 702.1,411.5 703.7,406.8 705.3,403.5 705.7,406.9 706,409.9 706.4,412.7 706.7,415.8 707.1,419.7 707.4,423 707.8,426.4 708.1,429.2 708.5,432.3 709.4,434.7 710.2,437.4 711.1,441.4 712,443.8 712.9,447.2 713.7,449.1 714.6,453.2 715.5,455.4 716.4,459.1 717.2,462.1 718.1,464.4 718.8,467.3 719.6,469.5 720.3,473.8 721,476 721.8,479.6 722.5,481.5 723.3,484.3 724,488.3 724.7,490.5 725.5,493 726.2,496.5 726.9,499.2 727.7,502.5 728.4,504.5 729.1,508.2 729.8,511 730.6,514 731.3,516.3 732,520.2 732.7,523.3 733.5,526.3 734.2,528.6 735.1,531.5 736,535.4 736.9,538 737.8,541.8 738.6,544 739.5,548.5 740.4,551.8 741.3,554.3 742.2,557.5 743.4,560.7 744.6,564 745.8,567.2 747,570.4 748.4,572.6 749.7,577 751,578.8 752.4,581.6 753.8,584.4 755.1,588 755.9,590.6 756.7,594.4 757.5,596.1 758.3,599.2 759.1,603.1 759.9,605.7 763.1,606 766.3,607.3 767.9,609.2 769.5,612.8 771.1,615.3 775.1,613.8 779.1,612.1 781.8,614.3 784.5,616.7 787.2,618.5 789.3,615.2 791.5,613.8 793.6,610.5 796.3,609.2 798.9,606.6 801.6,605.7 803.7,602.4 805.9,600.3 808,597.6 811.2,600.8 812.2,597.5 813.1,593.7 814,590.1 815,587.4 816.6,584.4 818.2,581.2 819.8,579.1 821.4,576.2 824.6,574.4 827.8,571.4 828.6,567.6 829.4,565.1 830.2,562.1 831,558.5 835.9,558.5 837.5,554.8 839.1,552.1 843.9,548.9 845.5,546.2 847.1,542.5 849.5,545.6 851.9,547.3 855.1,547.5 858.3,548.1 860.7,544.4 863.1,540.9 864.3,544.2 865.5,546.5 866.8,549.1 868,552.1 869.1,556 870.1,558.9 871.2,561.7 876,561.7 877.2,564.3 878.4,566.9 879.6,569.9 880.8,573 881.9,576.1 882.9,580.2 884,582.6 886.4,585.5 888.8,587.4 890.1,591.3 891.4,594.3 892.6,597.6 893.9,599.6 895.2,603.5 896.3,606.7 897.4,610.6 898.5,613.8 899.5,615.9 900.6,619.4 901.7,622.7 904.4,625 907,626.7 909.7,629.1 910.1,632.4 910.5,634.8 910.9,638.6 911.3,642 911.7,644.4 912.1,647.8 912.5,652.3 912.9,654.8 917.7,658 919,661.7 920.3,665.1 921.5,667.9 922.8,671.4 924.1,674.1 926.3,677.9 928.4,681.1 930.6,683.7 933.8,685.4 937,688.5 940.2,691.1 943.4,693.3 946.6,694 949.8,695.7 953,696.5 956.2,697.2 959.5,698.7 962.7,699.7 966,701.1 969.2,701.4 972.5,702" fill="none" stroke="#33a865" stroke-width="3.5" stroke-linejoin="round" stroke-linecap="round" />
<polyline points="78.5,457.5 80.6,454.3 82.8,451.9 84.9,449 87,446.3 89.7,444.7 92.3,441.3 95,439.3 97,436.5 99,434.3 101,432 103,428.7 105.1,427 107.1,424.3 110.1,423 113.1,420.3 114.8,423 116.4,425.3 118.1,428.3 119.9,425.2 121.7,422.4 123.4,418.7 125.2,416.3 129.2,416.7 133.2,418.3 134.7,414.9 136.2,412.4 137.7,409.8 139.2,407.2 142.2,406.4 145.2,405.8 148.2,405 151.2,405.2 153.2,402.5 155.2,400.2 157.3,397.1 159.3,394.2 162.6,396 166,397.8 169.3,399.2 171.8,396 174.3,394 176.8,390.9 179.3,388.2 182.3,391.3 185.3,394.2 186.9,391.8 188.5,389 190.2,386.1 191.8,383.4 193.4,381.2 196.7,381.8 200.1,383.2 203.4,384.2 205.4,387 207.4,390.2 209.4,387.7 211.4,384.1 213.4,382.2 216.7,380.3 220.1,379.4 223.4,377.1 224.9,380 226.4,383.7 228,386.9 229.5,390.2 230.5,386.7 231.5,384.6 232.5,380.3 233.5,377.9 234.5,373.7 235.5,371.1 239.5,370.9 243.5,372.1 244.3,369.4 245.2,365.3 246,361.4 246.8,358.6 247.7,355.3 248.5,352.1 249.8,356 251,358.5 252.2,362.2 253.5,366.1 255,363.8 256.6,360.5 258.1,356.5 259.6,354.1 263.6,353.8 267.6,354.1 270,352.6 271.6,349.6 273.2,347.3 274.8,344.4 276.4,342 278,338.6 280,336.1 282,332.6 284,329.9 286,326.5 287.8,324.1 289.5,321.4 291.3,318.2 293.1,316 294.8,313.1 296.6,310.7 298.3,306.7 300.1,304.5 302.4,303.1 304.8,299.7 307.1,298.9 309.4,296.6 311.8,294.4 314.1,292.4 315.1,290.1 316.1,286.5 317.1,283.3 318.1,280.9 319.2,278 320.2,274.6 321.2,271.2 322.2,268.4 323.9,265.7 325.6,263.2 327.3,261 329.1,257.7 330.8,255.3 332.5,253 334.2,250.3 335.7,247.1 337.2,244 338.7,241.8 340.2,238.3 343.5,237.5 346.9,235.6 350.2,234.3 350.9,231.1 351.7,227.6 352.4,224.7 353.1,221.3 353.9,218.9 354.6,215.8 355.4,211.9 356.1,210.2 356.8,206.1 357.6,203.8 358.3,200.2 361,198 363.6,195.5 366.3,192.1 370,196 372,192.7 374,190.3 374.7,187 375.3,184.6 376,179.9 376.7,176.8 377.3,174.4 378,171.1 380,173.5 382,175.9 383.2,173.1 384.4,169.5 385.7,165.7 386.9,162.2 389.6,164.6 392.2,165.4 394.9,167 395.9,163.9 396.9,161.1 397.9,157.5 398.9,154.4 399.9,151.7 400.9,148.2 401.9,146 402.9,142.2 403.9,145.7 404.8,148.6 405.8,151.2 406.7,154.8 407.7,158.2 410.5,155.2 413.3,152.6 413.9,149.7 414.5,146.7 415.1,144.2 415.7,141.4 416.3,137.6 416.8,134.6 417.4,131.9 418,129.5 418.6,125.4 419.2,122.7 419.8,119.7 420.6,123.6 421.4,125.9 422.2,129.5 423,133.9 423.8,136.5 424.6,134 425.4,130.4 426.2,126.8 427,125 427.8,121.3 429.1,124.8 430.5,128.2 431.8,130.9 432.8,128.5 433.8,125.1 434.8,121.2 435.8,118.1 439.8,122.1 440.5,118.3 441.1,115.3 441.8,112.5 442.5,109.2 443.1,105.5 443.8,102.8 448.1,103.1 451.4,105 454.6,108 455.9,105 457.2,101.7 458.4,98.1 459.7,95.9 461,91.9 463.7,89.7 466.3,86.4 469,84.7 473.8,85.5 474.9,89.1 475.9,93.4 477,96.7 478.2,93.2 479.4,90.6 480.6,86.3 481.8,83.9 483.4,80.8 485.1,78.8 486.7,75.6 488.3,72.7 489.5,76.2 490.7,78.6 491.9,82.3 493.1,85.5 493.9,82.4 494.7,78.7 495.5,76.1 496.3,72.7 498.7,75.2 501.1,77.5 503.9,76.1 506.7,73.2 509.5,70.7 512.3,68.6 514.7,69.8 517.1,71.7 519.6,74.5 522,75.9 525.2,76.1 528.4,77.5 529.6,79.7 530.8,82.6 532,85.9 533.2,88.7 538,85.5 538.8,89.2 539.6,92.1 540.4,95.6 541.2,98.3 543.4,95.5 545.5,93.3 547.7,91.9 550.9,91.5 554.1,90.3 555.1,93.3 556.2,97.1 557.2,99.8 558.2,103.3 559.8,99.6 561.4,96.9 566.2,98.5 566.7,101.3 567.1,104.3 567.6,108.8 568,111.5 568.5,114.3 568.9,117.7 569.4,121 572.1,118.2 574.8,115 577.5,113 578.7,116.8 579.9,119.5 581.1,123.3 582.3,125.8 585.5,123.3 588.7,121 590,124.1 591.3,126.4 592.5,128.9 593.8,133.2 595.1,135.4 595.7,132.4 596.4,128.1 597,125.5 597.7,121.8 598.3,117.8 599,120.7 599.7,124.4 600.4,128.1 601,130.6 601.7,134.5 602.4,136.6 603.1,140.2 606.4,141.7 609.6,143.5 612.8,143.8 616,143.5 617.1,146.3 618.1,149.6 619.2,153.1 621.3,156.9 623.5,159.5 625.6,162.7 628.8,164.8 632,165.9 633.1,168.7 634.2,171.8 635.2,175.3 636.3,178.3 637.4,182.7 638.5,185.2 640.1,188.1 641.7,191.7 643.3,194.2 644.9,198 648.1,199.6 648.7,202.7 649.4,205.5 650,208.6 650.7,211.1 651.3,214.2 651.9,218.4 652.6,220.7 653.2,223.6 653.9,226.6 654.5,230.1 655.2,232.7 655.9,235.7 656.6,238.3 657.2,242.3 657.9,244.8 658.6,247.5 659.3,251 664.1,254.2 664.9,257.5 665.7,259.6 666.5,262.9 667.4,266.8 668.2,268.7 669,272.2 669.8,275.8 670.6,278.3 671.5,282 672.4,284.2 673.3,287.7 674.3,291.5 675.2,294.1 676.1,298.2 677,300.7 677.5,303.4 678,307.9 678.5,310.4 679,313.1 679.5,316.7 680,320 680.8,322.4 681.5,326.4 682.2,328.7 683,332.7 683.8,335.2 684.5,337.9 685.2,340.7 686,344.1 686.7,347.5 687.4,350.1 688.2,354.3 688.9,356.3 689.6,360.2 690.3,363.4 691.1,366.2 691.8,370.2 692.5,373 693.2,375.9 694,379.4 694.7,382.3 695.4,385 696.1,388.1 696.9,390.7 697.6,393.9 698.3,398.1 699,400.3 699.8,403.9 700.5,406.7 701.3,409.3 702.1,413.2 702.9,416.1 703.7,419.5 704.5,422.4 705.3,425.2 706.1,428.8 706.9,432.3 707.6,434.8 708.4,437.5 709.1,441.4 709.8,443.6 710.5,446.7 711.3,450.5 712,453.2 712.7,456.3 713.4,459.1 714.2,460.9 714.9,464.4 715.5,467.1 716.1,469.8 716.8,474 717.4,477 718,479.6 718.6,482.8 719.3,486.3 719.9,489.5 720.5,491.8 721.1,495.9 721.8,498.2 722.4,501.7 723,504.6 723.9,507.3 724.8,510.4 725.7,514.9 726.6,517.8 727.4,520.9 728.3,523.1 729.2,526.3 730.1,529.7 731,533.4 732.1,535.9 733.1,539 734.2,542.1 735.3,544.5 736.3,547.8 737.4,551.1 738.7,554.5 740.1,557 741.4,561.3 742.7,564.1 744.1,567.5 745.4,570.4 746.5,572.9 747.6,576 748.6,579.2 749.7,581.5 750.8,583.8 751.9,588 752.9,590.8 754,592.8 755.1,596 756.7,598.5 758.3,603 759.9,605.8 761.5,608.2 763.1,612.1 766.3,612.8 769.5,613.6 772.7,615.3 775.1,617.8 777.5,618.8 779.9,622 782.3,623.3 784.7,621.7 787.1,618.6 789.6,617.6 792,615.3 795.2,614.6 798.4,614.6 801.6,613.7 804,612.2 806.4,609.3 808.8,607 811.2,605.7 815,603.5 818.2,601.8 821.4,598.6 823.5,595.3 825.7,592.9 827.8,589 831,588.1 834.3,586.6 839.1,589 841.1,585.8 843.1,581.8 847.1,585.8 851.9,585.8 856.7,589 859.9,587.5 863.1,585 865.5,588 868,590.6 869.6,594.5 871.2,598.6 876,601.8 877.1,604.3 878.1,608.6 879.2,611.5 881.3,614.1 883.5,616.9 885.6,619.5 887.7,623.4 889.9,625.3 892,629.1 893.6,632.3 895.2,634 896.9,637.9 898.5,640.4 900.1,644.1 901.7,646.4 903.3,650.1 904.9,653.2 907,657.2 909.2,659.8 911.3,662.8 913.4,665.6 915.6,667.8 917.7,670.9 919.8,672.3 922,674.9 924.1,677.3 926.3,679.3 928.4,681.1 930.6,683.7 932.7,686.1 934.9,688.5 937,691.7 940.2,692.6 943.4,693 946.6,693.3 950.6,694.5 954.6,696.5 958.7,696.1 962.7,696.5 966,696.7 969.2,696.7 972.5,697" fill="none" stroke="#b07be6" stroke-width="3.5" stroke-linejoin="round" stroke-linecap="round" />
<rect x="77.5" y="2.5" width="896.9" height="720.1" fill="none" stroke="#000" stroke-width="2.8"/>
<line x1="892.9" y1="722.6" x2="892.9" y2="716.6" stroke="#000" stroke-width="3.1" />
<line x1="811.3" y1="722.6" x2="811.3" y2="709.1" stroke="#000" stroke-width="3.1" />
<line x1="729.8" y1="722.6" x2="729.8" y2="716.6" stroke="#000" stroke-width="3.1" />
<line x1="648.2" y1="722.6" x2="648.2" y2="709.1" stroke="#000" stroke-width="3.1" />
<line x1="566.6" y1="722.6" x2="566.6" y2="716.6" stroke="#000" stroke-width="3.1" />
<line x1="485" y1="722.6" x2="485" y2="709.1" stroke="#000" stroke-width="3.1" />
<line x1="403.4" y1="722.6" x2="403.4" y2="716.6" stroke="#000" stroke-width="3.1" />
<line x1="321.9" y1="722.6" x2="321.9" y2="709.1" stroke="#000" stroke-width="3.1" />
<line x1="240.3" y1="722.6" x2="240.3" y2="716.6" stroke="#000" stroke-width="3.1" />
<line x1="158.7" y1="722.6" x2="158.7" y2="709.1" stroke="#000" stroke-width="3.1" />
<text transform="translate(158.90,764.90) scale(0.9894,1)" font-size="35.03" text-anchor="middle" >10</text>
<text transform="translate(322.06,764.90) scale(0.9894,1)" font-size="35.03" text-anchor="middle" >8</text>
<text transform="translate(485.22,764.90) scale(0.9894,1)" font-size="35.03" text-anchor="middle" >6</text>
<text transform="translate(648.38,764.90) scale(0.9894,1)" font-size="35.03" text-anchor="middle" >4</text>
<text transform="translate(811.54,764.90) scale(0.9894,1)" font-size="35.03" text-anchor="middle" >2</text>
<text transform="translate(974.70,764.90) scale(0.9894,1)" font-size="35.03" text-anchor="middle" >0</text>
<text transform="translate(525.60,824.60) scale(0.9888,1)" font-size="38.34" text-anchor="middle" >Kinetic Energy [eV]</text>
<text transform="translate(481.60,866.20) scale(0.9960,1)" font-size="34.07" text-anchor="middle" >(a)</text>
<text transform="translate(46.00,363.00) rotate(-90) scale(0.9599,1)" font-size="39.13" text-anchor="middle" >Normalized Intensity [a.u]</text>
<line x1="286.8" y1="454.1" x2="369.7" y2="454.1" stroke="#4d4d4d" stroke-width="3.3" stroke-linecap="round"/>
<text transform="translate(379.80,467.15) scale(1.0008,1)" font-size="37.60" >BiVO<tspan font-size="24.82" dy="10.15">4</tspan></text>
<line x1="286.8" y1="508" x2="369.7" y2="508" stroke="#f53b3b" stroke-width="3.3" stroke-linecap="round"/>
<text transform="translate(379.80,521.05) scale(1.0008,1)" font-size="37.60" >Mo:BiVO<tspan font-size="24.82" dy="10.15">4</tspan><tspan dy="-10.15"> 5% O</tspan><tspan font-size="24.82" dy="10.15">2</tspan></text>
<line x1="286.8" y1="562.2" x2="369.7" y2="562.2" stroke="#1a6fe6" stroke-width="3.3" stroke-linecap="round"/>
<text transform="translate(379.80,575.25) scale(1.0008,1)" font-size="37.60" >Mo:BiVO<tspan font-size="24.82" dy="10.15">4</tspan><tspan dy="-10.15"> 10% O</tspan><tspan font-size="24.82" dy="10.15">2</tspan></text>
<line x1="286.8" y1="616.5" x2="369.7" y2="616.5" stroke="#33a865" stroke-width="3.3" stroke-linecap="round"/>
<text transform="translate(379.80,629.55) scale(1.0008,1)" font-size="37.60" >Mo:BiVO<tspan font-size="24.82" dy="10.15">4</tspan><tspan dy="-10.15"> 15% O</tspan><tspan font-size="24.82" dy="10.15">2</tspan></text>
<line x1="286.8" y1="670.9" x2="369.7" y2="670.9" stroke="#b07be6" stroke-width="3.3" stroke-linecap="round"/>
<text transform="translate(379.80,683.95) scale(1.0008,1)" font-size="37.60" >Mo:BiVO<tspan font-size="24.82" dy="10.15">4</tspan><tspan dy="-10.15"> 20% O</tspan><tspan font-size="24.82" dy="10.15">2</tspan></text>
<rect x="753.8" y="28.8" width="122.2" height="52.9" fill="url(#gGray)"/>
<rect x="753.8" y="111" width="122.2" height="31.8" fill="url(#gGray)"/>
<line x1="755" y1="153.3" x2="871.4" y2="153.3" stroke="#000" stroke-width="1.7" stroke-dasharray="7.4,4.2"/>
<rect x="754.5" y="156.5" width="121.5" height="26.5" fill="url(#gOr)"/>
<text transform="translate(815.00,178.50) scale(0.9518,1)" font-size="23.82" text-anchor="middle" fill="#111" >Defect state</text>
<path d="M878.1,57.5 H885.3 Q888.3,57.5 888.3,60.5 V89.8 H897.6 M888.3,89.8 V119.3 Q888.3,122.3 885.3,122.3 H878.1" fill="none" stroke="#000" stroke-width="2.5"/>
<text transform="translate(902.00,101.80)" font-size="22.50" fill="#111" >V3d</text>
<text transform="translate(883.10,161.50) scale(0.9050,1)" font-size="22.50" fill="#111" >Ef</text>
<rect x="754.8" y="215.1" width="121.1" height="35.5" fill="url(#gGray2)"/>
<rect x="754.8" y="250.6" width="121.1" height="35.8" fill="url(#gGray3)"/>
<line x1="754.8" y1="250.6" x2="875.9" y2="250.6" stroke="#000" stroke-width="1.7" />
<text transform="translate(813.45,239.95) scale(1.0173,1)" font-size="21.52" text-anchor="middle" fill="#111" >Bi6s</text>
<text transform="translate(815.10,274.80)" font-size="20.30" text-anchor="middle" fill="#111" >O2p</text>
<text transform="translate(857.90,411.90) scale(0.9850,1)" font-size="33.60" text-anchor="middle" font-weight="bold" >Defect state</text>
<path d="M846,431.9 H868.7 V506 H879.7 L857.2,528.7 L834.6,506 H846 Z" fill="url(#gArr)"/>
</g>
<g id="plot-b">
<polyline points="101,1385 101.5,1384.6 102,1381.6 102.5,1379.9 103,1378.9 103.3,1378.3 103.5,1374.7 103.8,1374.1 104.1,1371.9 104.4,1371.5 104.6,1369.2 104.9,1368.1 105.2,1364.9 105.5,1364.5 105.7,1362.7 106,1360.8 106.4,1359.1 106.8,1358.3 107.2,1356.9 107.6,1353.4 108,1352.3 108.4,1350.8 108.8,1348.8 109.2,1346.9 109.6,1345.8 110,1344 110.4,1343.7 110.8,1341.5 111.2,1339 111.6,1337.9 112,1336.8 112.6,1335.1 113.2,1333.2 113.8,1331.1 114.4,1329.2 115,1327.5 115.7,1328.4 116.3,1326.2 116.9,1322.8 117.5,1322.9 118.1,1320.7 118.6,1323.6 119.1,1324.1 119.6,1324.5 120.1,1327.1 120.6,1328.6 121.1,1329.6 121.6,1332.1 122.1,1332.3 122.6,1336.3 123.1,1336.8 123.5,1335.6 123.8,1334 124.2,1333.2 124.5,1330.9 124.9,1328.3 125.2,1326.7 125.6,1324.8 126,1322.9 126.3,1323.3 126.7,1321.9 127,1318.9 127.4,1317 127.7,1316.6 128.1,1314.7 129.8,1314.9 131.4,1314.5 133.1,1312.7 134.3,1310.8 135.6,1311.4 136.8,1310.6 138.1,1308.7 139.8,1309.3 141.4,1308.2 143.1,1308.7 143.3,1309.5 143.6,1312.9 143.8,1313.2 144.1,1315 144.3,1317.2 144.6,1318.4 144.8,1321.2 145.1,1321.4 145.3,1322.5 145.6,1325.5 145.8,1327.4 146.1,1328.7 146.5,1327.9 146.8,1325.9 147.2,1324.8 147.5,1323.3 147.9,1320.5 148.3,1318.8 148.6,1316.3 149,1315 149.3,1314.1 149.7,1311.1 150,1311.1 150.4,1308.1 150.8,1307.1 151.1,1306.9 151.5,1302.9 151.8,1301.2 152.2,1300.7 153.5,1299.5 154.9,1297.9 156.2,1298.2 157.5,1295.3 158.9,1296.5 160.2,1294.6 160.7,1294 161.3,1292.3 161.8,1289.8 162.4,1287.9 162.9,1287.3 163.5,1285.4 164,1283.6 164.6,1281.8 165.1,1280.5 165.7,1279.6 166.2,1277.6 167.7,1279.2 169.2,1280.2 170.7,1279 172.2,1280.6 173,1281.7 173.8,1283.7 174.6,1285.6 175.4,1286.6 176.2,1288.6 178.2,1287.8 180.3,1287.5 182.3,1288.6 184.3,1287.5 186.3,1287.2 188.3,1286.6 189.3,1289.3 190.3,1290.7 191.3,1292.1 192.3,1292.6 192.6,1292.2 193,1290.5 193.3,1287.9 193.6,1286.7 194,1283.1 194.3,1283.1 194.6,1281.2 195,1278.7 195.3,1277.8 195.6,1277.1 196,1274.2 196.3,1272.6 197.6,1274 199,1274.1 200.3,1275.2 201.6,1277.6 203,1276.4 204.3,1278.6 204.7,1276.2 205.1,1275.8 205.5,1273.6 205.9,1271.1 206.3,1271 206.7,1268.6 207.1,1267.5 207.5,1265.5 207.9,1264.2 208.3,1262.5 210,1262 211.7,1260.9 213.4,1259.5 215,1259 216.7,1260.2 218.4,1258.5 219.1,1260.2 219.7,1260.6 220.4,1264.1 221.1,1264.1 221.7,1265.3 222.4,1268 223.1,1268.8 223.7,1271 224.4,1272.6 225.1,1271.1 225.7,1268.5 226.4,1267.7 227.1,1264.9 227.7,1264.2 228.4,1262.5 230.4,1262.1 232.4,1260.1 234.4,1260.5 235.1,1258.7 235.7,1256.3 236.4,1255.7 237.1,1255.2 237.7,1252.9 238.4,1251.7 239.1,1250.3 239.7,1247.1 240.4,1246.5 242.1,1247.1 243.7,1245.7 245.4,1244.5 245.7,1245.1 245.9,1248.7 246.2,1249.2 246.4,1250.3 246.7,1254 246.9,1254.7 247.2,1256.9 247.5,1256.9 247.7,1260.2 248,1260 248.2,1262.1 248.5,1264.5 249.1,1262.6 249.7,1260.2 250.3,1260.1 251,1257.6 251.6,1256.3 252.2,1255.8 252.8,1253.5 253.4,1253.2 254,1251 254.7,1250.1 255.3,1247.7 255.9,1247.1 256.5,1244.5 257.5,1246.7 258.5,1246.1 259.5,1248.9 260.5,1249.1 261.5,1251.4 262.5,1252.5 263.5,1254.1 264.5,1254.5 265.7,1252.3 266.9,1251.8 268.1,1251.5 269.3,1250.9 270.5,1248.5 271,1247.4 271.6,1244 272.1,1243.9 272.7,1240.9 273.2,1240.4 273.8,1239.5 274.3,1236 274.9,1236.5 275.4,1234.2 276,1231.5 276.5,1230.5 278,1230.2 279.6,1231.4 281.1,1232.9 282.6,1232.5 283.2,1231.2 283.9,1228.5 284.5,1226.7 285.1,1225.4 285.7,1225.7 286.4,1222.6 287,1222.1 287.6,1220.4 288.2,1221.6 288.7,1224.3 289.3,1225.3 289.9,1226.4 290.5,1230 291,1230.9 291.6,1232.5 291.9,1231.4 292.2,1230.1 292.5,1228.9 292.8,1224.8 293.1,1224.1 293.5,1222 293.8,1221.3 294.1,1220.7 294.4,1218.9 294.7,1215.3 295,1214.9 296.5,1213.1 298,1213.7 299.5,1212.4 301,1210.9 301.8,1209.2 302.6,1208 303.4,1205.8 304.2,1206.2 305,1203.6 305.8,1203.4 306.6,1201.3 307.4,1198.5 308.2,1197.8 309,1196.8 310.3,1195.1 311.5,1195.8 312.8,1194 314.1,1191.6 315.3,1190.9 316.6,1190.4 317.8,1189.7 319.1,1188.8 319.6,1187.5 320,1185.4 320.5,1183.8 320.9,1181.3 321.4,1181.3 321.9,1179.1 322.3,1176.7 322.8,1176.3 323.3,1176.1 323.7,1172.2 324.2,1170.9 324.6,1170.7 325.1,1168.7 326.3,1169.3 327.5,1170.5 328.7,1172.3 329.9,1172.9 331.1,1174.7 331.5,1173.3 332,1171.6 332.4,1171.2 332.8,1169.7 333.2,1165.6 333.7,1165.4 334.1,1164.4 334.5,1163.1 335,1161.3 335.4,1159.3 335.8,1157.8 336.2,1155.5 336.7,1153.7 337.1,1152.7 338.1,1155 339.1,1156.8 340.1,1158.5 341.1,1159.4 342.1,1160 343.1,1162.1 343.5,1161.2 343.9,1159.6 344.3,1157.4 344.7,1156.2 345.1,1153.9 345.5,1152.9 345.9,1150.9 346.4,1148.5 346.8,1147.6 347.2,1146 347.6,1146.2 348,1143.3 348.4,1141.5 348.8,1139.6 349.2,1138.7 350.3,1136.9 351.5,1136 352.6,1134.3 353.8,1132.8 354.9,1133.9 356.1,1131.6 357.2,1130.6 357.5,1128.9 357.8,1127.6 358.1,1125.3 358.5,1123.4 358.8,1121.6 359.1,1120.6 359.4,1119 359.7,1118.5 360,1116.5 360.4,1115.9 360.7,1112.8 361,1112.7 361.3,1110.2 361.6,1107.3 361.9,1106 362.3,1105.5 362.6,1104.9 362.9,1101.7 363.2,1100.5 363.8,1102.9 364.3,1103.8 364.9,1106.6 365.5,1106.3 366.1,1109.1 366.6,1111.9 367.2,1112.6 367.6,1110.4 367.9,1108.7 368.3,1106.4 368.7,1105.1 369,1103.8 369.4,1103.3 369.7,1100.3 370.1,1099.2 370.5,1097 370.8,1096.4 371.2,1094.5 371.9,1093.9 372.6,1091.9 373.2,1089.2 373.9,1089.1 374.6,1088.2 375.2,1085.8 375.9,1082.9 376.6,1083.3 377.3,1082 377.9,1079.1 378.6,1077.1 379.3,1076.5 380.9,1076.5 382.5,1078.2 384.1,1079.9 385.7,1080.1 387.3,1080.5 387.5,1079.9 387.7,1076.4 388,1075 388.2,1074.5 388.4,1072.5 388.6,1070.2 388.9,1069.3 389.1,1066.7 389.3,1064.3 389.5,1063.6 389.7,1060.9 390,1060.8 390.2,1058.3 390.4,1057.1 390.6,1055.7 390.9,1053.1 391.1,1052 391.3,1050.4 391.7,1050.7 392.2,1054.6 392.6,1055.2 393.1,1057.9 393.5,1057 394,1060 394.4,1061.9 394.9,1062.4 395.3,1064.4 395.7,1061.7 396.1,1060.3 396.5,1058.7 396.9,1058.7 397.3,1055.3 397.7,1055.6 398.1,1053 398.5,1051.7 398.9,1050.2 399.3,1048.5 399.7,1047.2 400.1,1045.5 400.5,1043.2 400.9,1042.6 401.3,1040.4 402.8,1038.8 404.3,1038.9 405.8,1038.1 407.3,1036.4 408.1,1038.6 408.8,1038.9 409.6,1041.6 410.4,1043.6 411.1,1043.8 411.9,1044.8 412.6,1047 413.4,1048.4 414,1048 414.6,1044.4 415.2,1042.5 415.9,1042.2 416.5,1041.1 417.1,1039.8 417.7,1037.2 418.3,1037.3 418.9,1033.8 419.6,1033.6 420.2,1030.3 420.8,1028.6 421.4,1028.3 422.3,1026 423.2,1024.5 424.1,1024.3 425,1023.1 425.8,1020.8 426.7,1021.4 427.6,1018.6 428.5,1016.7 429.4,1016.3 431.1,1015.8 432.7,1017.6 434.4,1018.4 436.1,1016.8 437.7,1016.7 439.4,1018.3 440,1017.3 440.5,1014.2 441.1,1014.4 441.7,1011.4 442.3,1010.1 442.8,1007.6 443.4,1006.3 444.1,1005.6 444.7,1003.2 445.4,1001.4 446.1,1001.5 446.8,997.9 447.4,998.1 448.1,994.9 448.8,994.9 449.5,992.8 450.1,992.5 450.8,988.9 451.5,988.8 452.2,986.9 452.8,986.8 453.5,984.2 454.2,986.9 455,987.5 455.8,988 456.5,989.6 457.2,991.1 458,993 458.8,994 459.5,996.2 459.9,993.8 460.2,993.6 460.6,991.6 460.9,989.1 461.3,989.2 461.6,985.5 462,984.8 462.3,982.1 462.7,982.3 463,980.6 463.4,977.4 463.7,977 464.1,975.6 464.4,972.5 464.8,971 465.1,969.7 465.5,968.1 466.4,970.5 467.3,969.9 468.2,972.6 469.1,973.7 469.9,974.7 470.8,976.4 471.7,978.5 472.6,978.1 473.5,980.2 475.1,981.6 476.7,980.6 478.4,982.1 480,982.7 481.6,982.2 482.3,979.9 483,980.2 483.7,979.1 484.4,975.9 485.1,973.7 485.8,972.5 486.5,973.3 487.2,970.6 488.4,967.9 489.6,968.8 490.8,965.3 492,965.4 493.2,963.3 493.4,960.6 493.6,959.2 493.9,958.9 494.1,955.7 494.3,954.7 494.5,954.6 494.7,952.5 494.9,951.3 495.2,949.9 495.4,945.8 495.6,944.7 495.8,944.5 496,942.6 496.2,939.3 496.5,938.9 496.7,936.5 496.9,935.6 497.6,937 498.3,937.7 499,939 499.6,943.1 500.3,942.9 501,945.9 501.7,946.5 503.1,946.5 504.6,948.4 506,948.4 507.5,950.2 508.9,951.3 510.3,951.4 511.8,953.7 513.2,953.3 514.7,955.8 516.1,956.1 516.6,957.7 517.2,958.3 517.7,960.6 518.2,962.5 518.8,965.2 519.3,965.4 519.8,966.6 520.4,970.2 520.9,970.6 521.2,969.9 521.5,967.9 521.8,965 522.1,963.1 522.4,961.7 522.7,959.5 523,957.8 523.3,957.4 523.6,955.5 523.9,954.2 524.2,952 524.5,949.5 524.8,949.6 525.1,947.8 525.4,945.9 525.7,944.1 526.9,942.4 528.1,940.5 528.6,942.6 529.1,944.9 529.6,946.2 530.1,947.3 530.5,948 531,949.4 531.5,951.2 532,954.2 532.5,954.2 533,956.1 533.5,957.5 534,959.2 534.4,960.2 534.9,964.2 535.4,963.3 535.9,966.5 536.4,969 536.8,969 537.3,971.6 537.8,973 539,971.5 540.2,969.9 541.4,968.6 542.6,967.1 543.8,967.8 545,965.7 546.4,967.4 547.9,968.7 549.3,967.5 550.8,970.1 552.2,970.6 553.6,971.1 555.1,972.9 556.5,973.6 558,974 559.4,975.4 560.2,978.2 561,977.3 561.8,980.8 562.7,982.7 563.5,983.4 564.3,985 565.9,984.8 567.5,985.5 569.1,983.1 570.7,983.7 572.3,983.6 573.9,982.6 574.3,984 574.6,986.5 575,987.3 575.4,989.3 575.7,991.2 576.1,993.1 576.5,993.8 576.9,996.3 577.2,997.7 577.6,998.6 578,1001.3 578.3,1002 578.7,1004.3 580.3,1006.2 581.9,1005.8 583.5,1006.7 584.1,1008.8 584.6,1009.9 585.2,1011.3 585.8,1012.2 586.3,1013.5 586.9,1017.1 587.5,1017.6 588,1019.2 588.6,1020.7 589.1,1023 589.7,1023.1 590.3,1024.5 590.8,1027.7 591.4,1028.3 592,1030.4 592.5,1032.4 593.1,1033.1 593.8,1032.7 594.6,1031.2 595.3,1027.6 596,1027 596.8,1026.8 597.5,1025.3 598.2,1022 598.9,1020.7 599.7,1019.5 600.4,1018.7 601.6,1018.9 602.8,1020.7 604,1023.1 605.2,1023.6 606.4,1024.6 607.6,1025.9 607.9,1026.4 608.1,1028.8 608.4,1032 608.7,1032.8 608.9,1033.8 609.2,1035.5 609.5,1037.9 609.7,1039.4 610,1039.4 610.3,1042.4 610.5,1043.2 610.8,1045.2 611.1,1046.1 611.3,1048 611.6,1049.6 611.9,1051.3 612.1,1051.9 612.4,1054.8 613.6,1052.8 614.8,1052.6 616,1050.1 617.2,1049.2 618.4,1049.4 619.6,1047.6 620.4,1045.4 621.2,1043.9 622,1042.1 622.8,1042.1 623.6,1038.5 624.4,1038 624.8,1039.9 625.3,1042 625.7,1041.9 626.1,1044 626.6,1046.5 627,1047.6 627.5,1048.5 627.9,1049.2 628.3,1051.7 628.8,1053.1 629.2,1055.5 629.6,1056 630.1,1057.8 630.5,1059.6 631.4,1058.6 632.2,1057.7 633.1,1055.1 633.9,1053.8 634.8,1052.9 635.6,1052.5 636.5,1050 636.9,1050.8 637.3,1054.3 637.8,1055.2 638.2,1055.9 638.6,1058.2 639,1058.9 639.5,1059.8 639.9,1063.1 640.3,1063.7 640.7,1065.7 641.2,1067.1 641.6,1069.7 642,1070.9 642.4,1070.6 642.9,1073.6 643.3,1074.8 643.7,1076.5 644.5,1074.9 645.2,1074.4 646,1071.7 646.7,1070.4 647.5,1070 648.2,1067.3 649,1065.9 649.7,1064.4 650.1,1066 650.4,1068.4 650.8,1069.6 651.2,1071.3 651.5,1072 651.9,1072.6 652.3,1075.9 652.6,1077.1 653,1079.2 653.4,1080.8 653.7,1080.7 654.1,1082.5 654.4,1083.7 654.8,1087.2 655.2,1086.9 655.5,1088.4 655.9,1091.7 656.3,1092.8 656.6,1093.1 657,1096.3 657.4,1097.9 657.7,1098.9 658.1,1100.5 658.5,1101 658.9,1104.2 659.3,1105.1 659.7,1107.2 660.1,1109.8 660.5,1111 661,1112.7 661.4,1112.4 661.8,1114.5 662.2,1116.6 662.6,1116.9 663,1119.8 664.6,1121.9 666.2,1120.8 667.8,1121.6 669.4,1122.5 671,1123.2 672.6,1124.6 673,1127.1 673.4,1128 673.8,1129.5 674.2,1130.8 674.6,1131.5 675,1133.7 675.4,1136.8 675.8,1138.3 676.2,1140 676.6,1140.1 677,1141.5 677.4,1143.9 677.7,1144.4 678,1147.3 678.3,1148.5 678.6,1150.4 678.9,1152.1 679.2,1154 679.5,1155 679.8,1157.8 680.1,1157.9 680.4,1161.4 680.8,1162.1 681.1,1162.4 681.4,1164.7 681.7,1167 682,1168.3 682.3,1170.3 682.6,1171.3 682.9,1172.8 683.2,1175.8 683.5,1176.2 683.8,1178.9 684.1,1180 684.4,1182.4 684.7,1183.4 685.1,1184.7 685.4,1187.6 685.7,1187.9 686,1190.6 686.3,1190.1 686.7,1192.7 687,1194.8 687.3,1194.9 687.6,1198.6 687.9,1198.1 688.3,1201.1 688.6,1201.6 688.9,1205.2 689.2,1205.8 689.5,1208.1 689.9,1208.9 690.2,1210.9 690.5,1212.1 690.8,1214.2 691.1,1214.8 691.5,1216.2 691.8,1219.4 692.1,1219.2 692.4,1222.8 692.7,1222.6 693.1,1223.9 693.4,1225.5 693.7,1228.9 694,1230.9 694.3,1231.1 694.7,1233.4 695,1233.9 695.3,1237.2 695.6,1238.3 695.9,1238.5 696.3,1239.8 696.6,1243.1 696.9,1244.2 697.3,1244.6 697.8,1248.3 698.2,1248.5 698.6,1249.9 699,1252.4 699.5,1253.4 699.9,1255.6 700.3,1256.2 700.7,1259.7 701.2,1259.8 701.6,1262.8 702,1262.6 702.4,1265.9 702.9,1267.9 703.3,1268.3 703.7,1269.6 704.2,1270.3 704.6,1272.8 705,1275.1 705.5,1275.6 705.9,1278 706.3,1278.4 706.8,1281 707.2,1283.3 707.6,1284.1 708.1,1286.4 708.5,1286.5 708.9,1290 709.4,1289.7 709.8,1292.3 710.2,1295 710.6,1296.8 710.9,1298.3 711.3,1298.8 711.7,1299.8 712.1,1301.5 712.4,1304.2 712.8,1305.1 713.2,1307.9 713.6,1307.3 713.9,1309.9 714.3,1312.5 714.7,1313.4 715.1,1314.9 715.4,1315.3 715.8,1317.1 716.2,1319.6 716.7,1320.6 717.2,1323.8 717.7,1325.3 718.2,1325.3 718.7,1328.7 719.2,1328 719.6,1331.1 720.1,1333.7 720.6,1333.7 721.1,1336.8 721.6,1337.7 722.1,1337.7 722.6,1340.5 722.9,1341.7 723.2,1343.6 723.5,1344.7 723.8,1347.6 724.1,1347.7 724.4,1350.9 724.7,1351.2 725,1352.2 725.3,1355.1 725.6,1355.5 725.9,1358.3 726.2,1360.5 726.5,1361.6 726.8,1362.9 727.1,1363.4 727.4,1366.2 728.6,1367.8 729.8,1368.4 731,1371.4 732.2,1372.6 732.4,1373.2 732.7,1376 732.9,1377 733.2,1378.7 733.4,1381 733.6,1381.4 733.9,1383 734.1,1386.6 734.4,1386.6 734.6,1389.5 734.8,1391.2 735.1,1391.8 735.3,1392.6 735.6,1394 735.8,1397.7 736,1397.3 736.3,1399.9 736.5,1401.6 736.8,1402.1 737,1404.7 737.5,1406.2 737.9,1407 738.4,1409.6 738.8,1411.1 739.3,1412.4 739.7,1413.5 740.2,1415.9 740.9,1417.1 741.6,1418 742.4,1419.2 743.1,1421 743.8,1424 744.5,1424.5 745.3,1426.9 746,1426.1 746.7,1428.8 747.2,1431.6 747.7,1432 748.2,1434.4 748.7,1435.4 749.2,1437.3 749.7,1437.7 750.1,1440.7 750.6,1440.7 751.1,1442.6 751.6,1443.6 752.1,1446.1 752.6,1448 753.1,1449.6 754.7,1449.9 756.3,1452.2 757.9,1450.9 759.5,1452.8 760.1,1454.6 760.8,1455.3 761.4,1457.9 762.1,1460 762.7,1461.4 763.3,1461.3 764,1463.4 764.6,1465.9 765.3,1468.5 765.9,1468.9 767.5,1468.5 769.1,1470.8 770.7,1471.8 772.3,1472.1 773.2,1474.3 774.1,1474.5 775,1477.2 775.9,1477.7 776.8,1480.3 777.7,1479.4 778.6,1483.2 779.5,1483.2 780.4,1484.9 782,1484 783.6,1482.5 785.2,1482.3 786.8,1482.9 788.4,1481.7 789.7,1483.4 791,1483.4 792.2,1485.1 793.5,1485.9 794.8,1488.1 796.5,1487.2 798.3,1487.2 800,1487.9 801.6,1486.7 803.2,1487.5 804.8,1486.8 806.4,1484.7 808,1486.3 809.6,1486.3 810.6,1487.8 811.5,1489.5 812.5,1491.8 813.4,1493.8 814.4,1494.3 815.2,1493.4 816,1491.5 816.8,1488.7 817.6,1488.2 818.5,1487.2 819.3,1485.4 820.1,1482 820.9,1481.5 821.5,1483.7 822.2,1484.3 822.8,1485.4 823.5,1489.1 824.1,1489.5 825.3,1488.7 826.5,1487.7 827.7,1485 828.9,1484.7 830.5,1486 832.1,1486.6 833.7,1487 835.3,1486.3 836.9,1486.9 838.5,1487.2 840.1,1487.1 841.7,1486.5 843.3,1486.1 844.9,1487.1 846.5,1487 848.1,1486.3 849.7,1488.1 851.3,1487.4 853,1489.9 854.6,1489.6 856.2,1490.3 857.8,1491.9 859.4,1490.3 861,1493 862.6,1493 864.2,1492.7 865.8,1491.5 867.4,1492.5 869,1491.1 869.3,1492 869.6,1493.5 869.9,1495.8 870.2,1496.8 870.5,1499.1 870.8,1501.8 871.1,1502.8 871.4,1503.9 872.7,1503.4 874.1,1501.5 875.4,1500.7 876.4,1502.7 877.3,1504.1 878.3,1505.1 879.2,1507 880.2,1507.2 881.5,1509 882.8,1508.9 884.1,1509 885.4,1511.4 886.7,1512 887.5,1514.5 888.3,1514.8 889.1,1517 889.9,1519.3 890.7,1520.8 891.5,1521.6 892.8,1521.3 894.1,1523.5 895.3,1523.2 896.6,1524.4 897.9,1526.4 899.1,1528.4 900.3,1528.6 901.5,1530.3 902.7,1531.2 903.5,1532.5 904.3,1533.6 905.1,1534.7 905.9,1536.5 906.7,1539.2 907.5,1540 908.3,1540.5 909.1,1542.5 910.2,1542.8 911.2,1544.6 912.3,1547 913.4,1547.7 914.4,1549.6 915.5,1550.5 917.1,1551.7 918.8,1550.3 920.4,1552.2 922,1552.1 923.2,1552.1 924.4,1555.3 925.6,1554.9 926.8,1556.9 928.4,1557.3 930,1560 931.6,1559.4 933.2,1560 934.8,1561.7 936.4,1563.5 938,1563.6 939.6,1565.1 941.2,1564.9 942.8,1564.8 944.4,1565.3 946,1566.7 947.6,1565.7 949.3,1566.3 951,1568.2 952.8,1566.7 954.5,1568.1" fill="none" stroke="#c00000" stroke-width="4.0" stroke-linejoin="round" stroke-linecap="round" />
<polyline points="100.5,1350 102,1352.8 103,1355.2 104,1354.9 105,1357.4 106,1358.8 106.6,1359.1 107.1,1361.1 107.7,1364.7 108.2,1364.9 108.8,1367.4 109.3,1367.6 109.9,1369.4 110.4,1370.3 111,1372.9 111.9,1371.5 112.8,1370.8 113.7,1368.4 114.5,1366.5 115.4,1366.5 116.3,1364.8 117.2,1362.7 118.1,1360.8 120.1,1360.4 122.1,1362.5 124.1,1362.8 124.8,1361.2 125.6,1361 126.3,1357.9 127.1,1357.2 127.8,1355.6 128.6,1353.5 129.3,1352.4 130.1,1350.8 131,1349.9 131.9,1349.2 132.8,1346.8 133.7,1345.1 134.5,1345.4 135.4,1341.6 136.3,1342.3 137.2,1340.6 138.1,1338.8 139,1340.3 139.9,1341.3 140.8,1343.5 141.7,1345.2 142.5,1346.1 143.4,1347.4 144.3,1346.9 145.2,1349 146.1,1350.8 146.7,1348.3 147.3,1348.8 147.9,1347 148.5,1343.5 149.1,1343 149.8,1341.4 150.4,1338.4 151,1337.7 151.6,1337 152.2,1334.8 152.9,1336.7 153.7,1337.2 154.4,1340 155.2,1340.3 155.9,1342.4 156.7,1343.6 157.4,1346.5 158.2,1346.8 158.5,1345.6 158.7,1344.4 159,1342.4 159.3,1340.1 159.5,1340 159.8,1337.7 160.1,1336 160.3,1333.4 160.6,1331.5 160.9,1330.9 161.1,1330 161.4,1328.3 161.7,1325.5 161.9,1323.4 162.2,1322.7 164.2,1323.4 166.2,1325 168.2,1324.7 169.4,1322.6 170.6,1322.9 171.8,1320.2 173,1319.4 174.2,1318.7 174.9,1319.2 175.5,1321.5 176.2,1323.4 176.9,1326.6 177.5,1328.2 178.2,1328.7 179,1326.3 179.8,1325.1 180.6,1325.2 181.4,1321.7 182.1,1320.5 182.9,1319.2 183.7,1316.8 184.5,1315.6 185.3,1314.7 186.1,1316 186.9,1317.5 187.6,1320.6 188.4,1320.3 189.2,1321.7 190,1325.1 190.7,1325.5 191.5,1328 192.3,1328.7 192.8,1327.4 193.4,1326.2 193.9,1323.3 194.5,1321.2 195,1321.2 195.6,1318.8 196.1,1317.4 196.7,1316.1 197.2,1314.6 197.8,1311.8 198.3,1310.7 200.3,1309.7 202.3,1310.5 204.3,1308.7 204.7,1310.4 205.1,1311.3 205.5,1313.8 205.9,1314.5 206.3,1317.4 206.7,1317.1 207.1,1320.7 207.5,1321.7 207.9,1322.7 208.3,1324.7 209.2,1324.4 210.1,1321.2 211.1,1319.7 212,1317.8 212.9,1317.6 213.8,1316.6 214.7,1315 215.6,1312.8 216.6,1312.4 217.5,1309.1 218.4,1308.7 220.1,1308.2 221.7,1309.1 223.4,1309.9 225.1,1309 226.7,1309.2 228.4,1308.7 229.6,1308.2 230.8,1306 232,1306.2 233.2,1304.5 234.4,1302.7 235.4,1303.5 236.4,1304.9 237.4,1307.2 238.4,1307.3 239.4,1308.1 240.4,1311.2 241.4,1311.5 242.4,1312.7 243.4,1311.4 244.4,1310.5 245.4,1309.7 246.5,1306.4 247.5,1305.6 248.5,1304.7 250.5,1302.9 252.5,1303.1 254.5,1302.7 255,1301.2 255.4,1300.5 255.9,1298.5 256.3,1296.7 256.8,1294.7 257.3,1293.6 257.7,1291.3 258.2,1291.2 258.7,1289.5 259.1,1288.1 259.6,1284.8 260,1284.6 260.5,1282.6 261.7,1284.6 262.8,1285.3 264,1287.6 265.2,1289 266.3,1289.9 267.5,1290.6 268.3,1289.9 269.1,1287.9 269.8,1286.9 270.6,1283.4 271.4,1283.4 272.2,1281.8 272.9,1280 273.7,1277.6 274.5,1276.6 276,1276.5 277.5,1278.9 279,1280.4 280.5,1280.6 281,1278.5 281.4,1276.8 281.9,1275.2 282.4,1273.4 282.8,1273.3 283.3,1272.6 283.8,1270.6 284.3,1267.9 284.7,1267.2 285.2,1264 285.7,1264.5 286.1,1261.6 286.6,1260.5 288.1,1258.2 289.6,1258.8 291.1,1256.6 292.6,1256.5 295,1257 295.7,1254.9 296.3,1252.7 297,1252.2 297.7,1250.9 298.3,1250 299,1246.5 299.7,1247 300.3,1243.5 301,1243 303,1241.6 305,1242 307,1241 307.4,1239 307.8,1237.3 308.2,1236.4 308.6,1233.8 309,1233.7 309.4,1230.6 309.8,1230.6 310.3,1228.9 310.7,1226.6 311.1,1223.7 311.5,1224 311.9,1220.5 312.3,1220.1 312.7,1218.3 313.1,1216.9 314,1217.2 314.8,1220.1 315.7,1221.8 316.5,1222.8 317.4,1223.8 318.2,1225.5 319.1,1226.9 319.8,1225.6 320.4,1223.1 321.1,1223.2 321.8,1222 322.4,1219.9 323.1,1218.8 323.8,1215.6 324.4,1215.7 325.1,1212.9 325.5,1210.1 325.8,1209.5 326.2,1207 326.5,1206.2 326.9,1205.1 327.2,1203.5 327.6,1201.2 327.9,1199.3 328.3,1197.2 328.6,1196.1 329,1194.2 329.3,1192.3 329.7,1192 330,1189.8 330.4,1187.9 330.7,1185.7 331.1,1184.8 332.1,1186.7 333.1,1186.7 334.1,1188.2 335.1,1190.3 336.1,1192 337.1,1192.8 337.8,1192.5 338.4,1190.3 339.1,1189.3 339.8,1187.7 340.4,1185.6 341.1,1184 341.8,1180.8 342.4,1179.6 343.1,1178.8 344.1,1176 345.1,1176.7 346.2,1174.8 347.2,1172.7 347.4,1171.4 347.6,1168.9 347.8,1167.5 348,1165.4 348.2,1165 348.4,1164.4 348.6,1161 348.8,1158.7 349,1157.5 349.2,1156.3 349.4,1156.1 349.6,1154.3 349.8,1151.8 350,1149.3 350.2,1147.7 350.4,1146.2 350.6,1146.2 350.8,1143.8 351,1143.6 351.2,1140.7 352.5,1140.8 353.9,1139.4 355.2,1137.6 356.5,1137.5 357.9,1134.7 359.2,1134.6 361.2,1134.2 363.2,1136.1 365.2,1136.6 365.5,1135 365.8,1132.6 366.1,1131.2 366.4,1129 366.7,1129.7 367,1127.5 367.3,1126.6 367.6,1125 367.9,1122 368.2,1121.2 368.5,1118.7 368.8,1118.2 369.1,1116.7 369.4,1113.2 369.7,1111.3 370,1110.3 370.3,1109.6 370.6,1107.5 370.9,1104.9 371.2,1104.6 372.8,1106.3 374.4,1106.9 376.1,1106.9 377.7,1106.6 379.3,1108.6 380,1108 380.6,1105.6 381.3,1102.8 382,1101.9 382.6,1101.1 383.3,1100.2 384,1097.6 384.6,1096.4 385.3,1094.5 386.2,1092.3 387,1091 387.9,1091.3 388.7,1088.5 389.6,1086.3 390.4,1086.2 391.3,1084.5 391.9,1081.9 392.5,1080.5 393.1,1079.6 393.7,1078.3 394.3,1076.8 394.9,1075.4 395.5,1073.1 396.1,1070.5 396.7,1070.6 397.3,1068.4 398.3,1065.7 399.3,1065.3 400.3,1063.6 401.3,1062.4 402.9,1062 404.5,1061.4 406.1,1059.3 407.7,1059.6 409.3,1058.4 411.4,1058.9 413.4,1058.4 413.7,1056.7 414,1054.3 414.3,1054.6 414.6,1052.2 414.9,1049.2 415.2,1048.1 415.5,1048.4 415.8,1044.9 416.1,1043.7 416.4,1043.1 416.7,1041.6 417,1039.5 417.3,1038.2 417.6,1034.7 417.9,1033.3 418.2,1034 418.5,1031.9 418.8,1028.3 419.1,1026.7 419.4,1026.3 420.7,1026.6 422.1,1029.4 423.4,1028.6 424.7,1030.7 426.1,1032.4 427.4,1032.3 428.1,1031.1 428.7,1030.3 429.4,1027 430.1,1025.2 430.7,1023.3 431.4,1023.6 432.1,1020.4 432.7,1021.1 433.4,1018.3 434.4,1020.2 435.4,1020.2 436.4,1023.1 437.4,1022.8 438.4,1025 439.4,1025.3 440.4,1028.4 441.4,1030 442.4,1030.3 442.7,1029.8 443,1025.8 443.4,1026.3 443.7,1023.9 444,1023 444.3,1020.6 444.6,1019.2 444.9,1017.5 445.3,1016.5 445.6,1013 445.9,1011.3 446.2,1010.9 446.5,1008.6 446.9,1007.3 447.2,1004.6 447.5,1004.3 448.8,1003.9 450.2,1001 451.5,1002.1 452.8,1001 454.2,999.1 455.5,998.2 455.9,995.6 456.2,995.3 456.6,992.6 457,991.5 457.4,989.1 457.8,989.7 458.1,986.9 458.5,984.8 458.9,982.5 459.2,982.5 459.6,981.2 460,979.6 460.4,976 460.8,975.1 461.1,973.3 461.5,972.2 463.5,972.9 465.5,971.3 467.5,972.2 468.2,974 468.8,976.6 469.5,977.6 470.2,977.1 470.8,978.9 471.5,980.5 472.2,983.6 472.8,984.9 473.5,986.2 474,984.7 474.5,983 474.9,981.4 475.4,980.3 475.9,978.9 476.4,978.1 476.8,976.1 477.3,974.7 477.8,973.5 478.3,971.7 478.7,969.9 479.2,966.6 479.7,966.7 480.2,965.6 480.6,963 481.1,962.6 481.6,960.1 483,960.4 484.4,963.5 485.8,963.2 487.2,964.5 488.2,966.5 489.2,966.7 490.2,968.2 491.2,969.8 492.2,971.1 493.2,973 493.4,973.5 493.7,976.1 493.9,979.1 494.2,979.8 494.4,982.1 494.7,983.3 494.9,985.1 495.2,987.1 495.4,988.1 495.7,988.4 495.9,989.9 496.2,992 496.4,992.6 496.7,994.7 496.9,997 497,996.4 497.1,994.9 497.2,991.7 497.4,991.3 497.5,989.7 497.6,988.4 497.7,986.5 497.8,984.2 497.9,981.5 498,981.8 498.2,978.9 498.3,978.1 498.4,975.8 498.5,974.6 498.6,974.1 498.7,970.4 498.8,969.8 499,968.5 499.1,966.6 499.2,966 499.3,963.3 499.9,961.3 500.5,960.8 501.1,958.4 501.7,956.1 502.9,956.1 504.1,952.6 505.3,951.8 506.5,951.3 506.9,949.1 507.3,949.2 507.7,945.2 508.1,944.3 508.5,943.9 508.9,941.7 510.7,943 512.5,940.9 514.3,941.5 516.1,941.7 517,940.7 517.9,939.1 518.8,937.8 519.7,935.6 520.2,937.9 520.6,938.3 521,940 521.5,941 522,944.4 522.4,944.8 522.8,946.6 523.3,948.9 523.9,951.6 524.5,952.3 525.1,953.6 525.7,955.3 526.3,956.7 526.9,958.4 527.5,958.9 528.1,960.9 529.9,959.8 531.8,959.8 533.6,959.6 535.4,960.9 535.9,958.9 536.5,956.8 537,955.1 537.5,954.5 538.1,954.1 538.6,951.8 539.1,949.1 539.7,948.8 540.2,946.5 540.7,947.3 541.3,948.7 541.8,950.8 542.3,952.7 542.9,955 543.4,956 543.9,958.3 544.5,958.2 545,960.9 545.4,960.4 545.8,957.3 546.2,957 546.6,953.3 547,953.8 547.4,950.6 547.8,950.6 548.2,948.9 548.6,946.5 548.9,948.6 549.2,949.2 549.4,950.2 549.7,952.3 550,955.9 550.3,955.6 550.5,958.5 550.8,960 551.1,961.9 551.4,962.3 551.6,963.9 551.9,965.4 552.2,968.1 552.5,967.8 552.8,964.6 553.1,963.7 553.4,961.9 553.7,959.4 554,957.4 554.3,955.6 554.6,956.2 554.9,952.7 555.2,953.3 555.5,950.1 555.8,948.9 556.1,951.1 556.4,951.3 556.6,954.7 556.9,954.9 557.2,956.9 557.5,959 557.7,959.6 558,961.6 558.3,964.7 558.6,965 558.8,967 559.1,969.6 559.4,970.6 561.2,970.5 563,971 564.9,971.7 566.7,973 567.9,971.5 569.1,970.2 570.3,969.7 571.5,968.1 572.7,967.9 573.9,964.6 575.1,964.9 576.3,963.3 578.7,963.3 579,965.8 579.3,965.8 579.7,966.9 580,969.6 580.3,970.3 580.6,972.8 580.9,975.1 581.3,975.1 581.6,976.8 581.9,979.3 582.2,980.1 582.5,981.9 582.9,984 583.2,984.8 583.5,987.4 584.2,984.8 584.9,984.2 585.7,983 586.4,982.8 587.1,980.3 587.8,977.6 588.5,976.6 589.3,976.5 590,974.6 590.7,973 591.6,975.5 592.5,977.2 593.4,978.4 594.4,978 595.3,981.7 596.2,982.1 597.1,982.8 598,985 600.4,984.1 602.8,985 603.2,987.5 603.6,987.4 604.1,988.6 604.5,990.6 604.9,993.9 605.3,994.3 605.8,996.5 606.2,996.4 606.6,998.9 607,1000.1 607.5,1001.4 607.9,1004.1 608.3,1004.9 608.7,1005.8 609.2,1009.6 609.6,1009.9 610,1011.5 611,1009.2 611.9,1007.3 612.9,1007.6 613.8,1005.8 614.8,1004.3 616.2,1004 617.7,1006.1 619.1,1007.8 620.6,1008.2 622,1009.1 622.4,1010.1 622.7,1012.4 623.1,1014.4 623.5,1016.1 623.8,1016.5 624.2,1019.9 624.6,1021.9 625,1023 625.3,1025 625.7,1025.4 626.1,1028.4 626.4,1028.2 626.8,1030.7 627.4,1028.5 628,1028 628.6,1027.2 629.2,1023.6 629.9,1022.5 630.5,1020.5 631.1,1020 631.7,1018.7 632.2,1019.4 632.7,1021.3 633.1,1024.4 633.6,1025.6 634.1,1028.2 634.6,1028.5 635.1,1030.9 635.5,1030.9 636,1035 636.5,1035.5 636.8,1036.4 637,1038.7 637.3,1040.3 637.6,1043.1 637.8,1043.5 638.1,1046.4 638.4,1047.1 638.6,1047.6 638.9,1050.8 639.2,1050.8 639.4,1054.5 639.7,1054.7 640,1055.7 640.2,1059.2 640.5,1059.1 640.8,1060.9 641,1062.4 641.3,1064.4 642.2,1066.4 643.1,1066.2 644,1068.6 644.9,1069.6 645.8,1072.8 646.7,1072.2 647.6,1075.3 648.5,1076.5 649.2,1077.4 649.9,1079.5 650.6,1081.3 651.2,1083.2 651.9,1083.3 652.6,1085.1 653.3,1086.3 654,1090 654.7,1089.5 655.4,1091 656,1093.5 656.7,1095.2 657.4,1097.6 658.1,1098.1 658.3,1098.6 658.5,1100.7 658.6,1102.1 658.8,1104.9 659,1106.2 659.1,1107.7 659.3,1110.6 659.5,1111.6 659.7,1113.8 659.9,1115.6 660,1115.5 660.2,1118.9 660.4,1119.1 660.5,1119.8 660.7,1123.7 660.9,1123.2 661.1,1124.7 661.2,1127 661.4,1128.6 661.6,1132 661.8,1133.4 662,1133.9 662.1,1135.8 662.3,1138.3 662.5,1139.8 662.6,1141 662.8,1142.3 663,1143.9 664.8,1142.3 666.6,1142 668.4,1142.5 670.2,1141.5 670.6,1143.4 670.9,1145.6 671.3,1147.5 671.7,1149.3 672,1149 672.4,1150.4 672.8,1154.2 673.2,1155 673.5,1155.6 673.9,1158.6 674.3,1159.1 674.6,1160.8 675,1163.1 675.3,1164.4 675.5,1166.5 675.8,1168.6 676.1,1168.8 676.4,1172.2 676.6,1173.6 676.9,1174.9 677.2,1177.1 677.4,1179.1 677.7,1180 677.9,1180.3 678.2,1183.1 678.4,1185.3 678.7,1187 678.9,1188.4 679.1,1188.8 679.4,1192.4 679.6,1193.6 679.9,1193.8 680.1,1195.9 680.3,1198.8 680.6,1198.5 680.8,1200.6 681.1,1203.7 681.3,1205.1 681.5,1205 681.8,1207.9 682,1208.5 682.3,1210.9 682.5,1212.1 682.8,1214.4 683.1,1214.3 683.5,1216.2 683.8,1217.8 684.1,1219.5 684.4,1220.5 684.7,1222.4 685.1,1224.7 685.4,1226.3 685.7,1227.1 686,1230 686.3,1232.5 686.7,1233.2 687,1234.2 687.3,1236.7 687.6,1237.6 687.9,1238.5 688.3,1240.9 688.6,1241.3 688.9,1244.2 689.2,1246.3 689.5,1246.5 689.9,1248.7 690.2,1251.8 690.5,1252.9 690.8,1254.7 691.1,1255.8 691.5,1257.4 691.8,1259.2 692.1,1261.5 692.4,1261.1 692.7,1264.2 693.1,1264.5 693.4,1266 693.7,1269.1 694,1270.1 694.3,1272.4 694.7,1274.1 695,1274.9 695.3,1276.3 696.1,1277.1 696.9,1278.2 697.7,1281.2 698.5,1282.7 698.7,1284.9 699,1285.3 699.2,1286.4 699.4,1287.8 699.6,1289.9 699.9,1292.9 700.1,1292.7 700.3,1294.9 700.6,1296.6 700.8,1299.3 701,1301.6 701.2,1300.7 701.5,1302.6 701.7,1305.2 702.2,1307.9 702.8,1309.6 703.3,1309.1 703.8,1311.2 704.4,1313.3 704.9,1314.3 705.4,1316.2 706,1317.9 706.5,1319 707,1320 707.6,1321.7 708.1,1324.4 708.5,1325.1 708.9,1326.6 709.3,1329.5 709.7,1331.3 710.1,1331.8 710.5,1334.8 710.9,1336.2 711.4,1336.8 711.8,1338.8 712.2,1339.7 712.6,1343.2 713,1343.8 713.4,1344.1 713.8,1346 714.2,1349 714.6,1350.1 715.1,1351.4 715.5,1353.9 716,1354.2 716.4,1357.3 716.9,1358.9 717.3,1358.7 717.8,1361.6 718.3,1362.2 718.7,1365.1 719.2,1367 719.6,1368.5 720.1,1368.7 720.5,1369.9 721,1372.6 721.3,1374.6 721.6,1376 722,1376.5 722.3,1378.2 722.6,1380.8 722.9,1381.2 723.2,1384.2 723.6,1384.8 723.9,1386.4 724.2,1388.5 724.5,1390.4 724.8,1392.5 725.2,1392.3 725.5,1395.7 725.8,1396.7 726.2,1397.6 726.7,1399.4 727.1,1401.9 727.5,1403.6 727.9,1405 728.4,1407.3 728.8,1407.1 729.2,1409 729.6,1411.5 730.1,1412.1 730.5,1413.4 730.9,1415.2 731.3,1418.2 731.8,1420 732.2,1420.7 732.8,1422.9 733.3,1425.1 733.9,1426.3 734.5,1426.6 735.1,1428.3 735.6,1430.9 736.2,1430.8 736.8,1433.8 737.3,1434.1 737.9,1435.6 738.5,1438.4 739.1,1439.1 739.6,1442.7 740.2,1443.2 740.9,1445.7 741.7,1446.1 742.4,1446.9 743.2,1448.1 743.9,1450.6 744.7,1452.2 745.4,1453.2 746.2,1455.6 746.9,1456.6 747.7,1458.8 748.4,1458.5 749.2,1459.9 749.9,1462.5 750.7,1463.8 751.5,1465.7 752.3,1466.7 753.1,1469.3 753.9,1469.8 754.7,1471.6 755.5,1473.6 756.3,1475.3 757.2,1477.2 758.1,1478.7 759,1479.1 760,1480.6 760.9,1483.3 761.8,1484.7 762.7,1484.9 764.3,1485.2 765.9,1483.9 767.5,1484.8 769.1,1485.3 770.7,1484.9 772.3,1485.3 773.9,1485.6 775.6,1489 777.2,1489.8 778.8,1489.7 780.1,1487.5 781.4,1487.1 782.6,1486.2 783.9,1484.1 785.2,1483.3 786.8,1481.2 788.4,1482 790,1481.1 791.6,1479.3 793.2,1478.5 794.6,1476.1 795.9,1475.5 797.3,1473.4 798.6,1474.3 800,1471.8 800.5,1469 801.1,1468 801.6,1467.7 802.1,1464.5 802.7,1462.8 803.2,1462.2 803.7,1459.5 804.1,1458.1 804.6,1457.5 805,1456.7 805.5,1453.3 805.9,1451.8 806.4,1451 807.5,1450.4 808.5,1448.1 809.6,1446.6 810.7,1444.7 811.7,1443.7 812.8,1443 814.4,1443.7 816.1,1440.9 817.7,1441.4 818.1,1439.2 818.5,1438.8 818.9,1437.6 819.3,1436 819.7,1433.3 820.1,1432.9 820.5,1430.4 820.9,1428.5 822.5,1428 824.1,1428.4 825.7,1428.5 826.5,1427.5 827.3,1425.9 828.1,1422.7 828.9,1422.1 830.5,1420.2 832.1,1421.2 833.7,1418.9 834.5,1416.1 835.3,1416.1 836.1,1413.1 836.9,1411.7 838.1,1412.4 839.3,1413.9 840.5,1415.8 841.7,1417.3 843.3,1419 844.9,1417.2 846.5,1419.4 848.1,1418.9 848.9,1417 849.7,1415.2 850.6,1415.2 851.4,1412.7 852.2,1411.7 852.8,1412.6 853.3,1414.9 853.9,1417.7 854.5,1419.5 855.1,1420.5 855.6,1420.7 856.2,1423.7 857,1426 857.8,1427.2 858.6,1429.5 859.4,1430.1 861,1431.8 862.6,1430.7 864.2,1431.7 864.7,1434.2 865.2,1435.7 865.6,1435.9 866.1,1437.8 866.6,1439.4 867.1,1441 867.6,1442.7 868,1443.6 868.5,1445.5 869,1447.8 870,1450.5 870.9,1450.8 871.9,1453 872.8,1455.2 873.8,1455.8 874.5,1458.1 875.2,1458.3 875.9,1461.7 876.5,1463 877.2,1465.1 877.9,1466 878.6,1467 879.2,1469.3 879.8,1471 880.4,1471.2 881,1473.9 881.7,1474.8 882.3,1477.6 882.9,1477.3 883.5,1479.9 883.9,1481.6 884.3,1482.7 884.7,1485.5 885.1,1485.9 885.5,1488.8 885.9,1490.4 886.3,1492.1 886.7,1492.7 888,1493 889.3,1496.4 890.5,1497.2 891.8,1498.3 893.1,1499.1 893.7,1501.1 894.4,1501.2 895,1504.9 895.7,1505.7 896.3,1507.2 896.4,1508.7 896.6,1510 896.7,1512.7 896.9,1514.3 897,1516.2 897.2,1516.1 897.3,1518 897.5,1519.3 897.6,1520.6 897.8,1522.8 897.9,1524.8 899.5,1524.6 901.1,1527.7 902.7,1528 903.2,1528.9 903.8,1530.1 904.3,1531.7 904.8,1535 905.4,1535.2 905.9,1537.6 906.6,1539.1 907.3,1540.6 908,1543.2 908.7,1545.2 909.5,1545.2 910.2,1547.6 910.9,1549.9 911.6,1550.4 912.3,1552.1 913.5,1554.5 914.8,1555.5 916,1555.8 917.2,1557.7 918.8,1559.3 920.4,1559.1 922,1558.5 923.6,1560.1 925.2,1560.9 926.8,1562.2 928.4,1561.9 930,1562.5 931.6,1563.3 933.2,1563.9 934.8,1564.9 936,1567.3 937.2,1568.1 938.4,1568.3 939.6,1570.5 941.2,1570.7 942.8,1571.3 944.4,1572.2 946.1,1573.3 947.8,1572.4 949.5,1570.8 951.1,1572.7 952.8,1570.3 954.5,1571.4" fill="none" stroke="#2f63a0" stroke-width="4.0" stroke-linejoin="round" stroke-linecap="round" />
<line x1="699.6" y1="1351.8" x2="797.9" y2="1593.9" stroke="#2f63a0" stroke-width="1.5" />
<line x1="713.5" y1="1351.8" x2="811" y2="1593.9" stroke="#c00000" stroke-width="1.5" />
<line x1="772" y1="1566.6" x2="955.6" y2="1566.6" stroke="#c00000" stroke-width="1.8" />
<line x1="774" y1="1573.9" x2="955.6" y2="1573.9" stroke="#2f63a0" stroke-width="1.8" />
<rect x="100.1" y="903.9" width="856.8" height="690.1" fill="none" stroke="#000" stroke-width="3.6"/>
<line x1="100.1" y1="1528" x2="107.1" y2="1528" stroke="#000" stroke-width="3.2" />
<line x1="100.1" y1="1462.2" x2="114.1" y2="1462.2" stroke="#000" stroke-width="3.2" />
<line x1="100.1" y1="1396.5" x2="107.1" y2="1396.5" stroke="#000" stroke-width="3.2" />
<line x1="100.1" y1="1330.7" x2="114.1" y2="1330.7" stroke="#000" stroke-width="3.2" />
<line x1="100.1" y1="1265" x2="107.1" y2="1265" stroke="#000" stroke-width="3.2" />
<line x1="100.1" y1="1199.2" x2="114.1" y2="1199.2" stroke="#000" stroke-width="3.2" />
<line x1="100.1" y1="1133.5" x2="107.1" y2="1133.5" stroke="#000" stroke-width="3.2" />
<line x1="100.1" y1="1067.7" x2="114.1" y2="1067.7" stroke="#000" stroke-width="3.2" />
<line x1="100.1" y1="1002" x2="107.1" y2="1002" stroke="#000" stroke-width="3.2" />
<line x1="100.1" y1="936.2" x2="114.1" y2="936.2" stroke="#000" stroke-width="3.2" />
<text transform="translate(84.10,1602.00) scale(0.9431,1)" font-size="31.08" text-anchor="end" >0.0</text>
<text transform="translate(84.10,1470.50) scale(0.9431,1)" font-size="31.08" text-anchor="end" >0.2</text>
<text transform="translate(84.10,1339.00) scale(0.9431,1)" font-size="31.08" text-anchor="end" >0.4</text>
<text transform="translate(84.10,1207.50) scale(0.9431,1)" font-size="31.08" text-anchor="end" >0.6</text>
<text transform="translate(84.10,1076.00) scale(0.9431,1)" font-size="31.08" text-anchor="end" >0.8</text>
<text transform="translate(84.10,944.50) scale(0.9431,1)" font-size="31.08" text-anchor="end" >1.0</text>
<line x1="877.8" y1="1594" x2="877.8" y2="1587" stroke="#000" stroke-width="3.4" />
<line x1="800" y1="1594" x2="800" y2="1579.5" stroke="#000" stroke-width="3.4" />
<line x1="722.2" y1="1594" x2="722.2" y2="1587" stroke="#000" stroke-width="3.4" />
<line x1="644.5" y1="1594" x2="644.5" y2="1579.5" stroke="#000" stroke-width="3.4" />
<line x1="566.8" y1="1594" x2="566.8" y2="1587" stroke="#000" stroke-width="3.4" />
<line x1="489" y1="1594" x2="489" y2="1579.5" stroke="#000" stroke-width="3.4" />
<line x1="411.2" y1="1594" x2="411.2" y2="1587" stroke="#000" stroke-width="3.4" />
<line x1="333.5" y1="1594" x2="333.5" y2="1579.5" stroke="#000" stroke-width="3.4" />
<line x1="255.8" y1="1594" x2="255.8" y2="1587" stroke="#000" stroke-width="3.4" />
<line x1="178" y1="1594" x2="178" y2="1579.5" stroke="#000" stroke-width="3.4" />
<text transform="translate(177.40,1632.40) scale(0.9134,1)" font-size="32.19" text-anchor="middle" >10</text>
<text transform="translate(332.90,1632.40) scale(0.9134,1)" font-size="32.19" text-anchor="middle" >8</text>
<text transform="translate(488.40,1632.40) scale(0.9134,1)" font-size="32.19" text-anchor="middle" >6</text>
<text transform="translate(643.90,1632.40) scale(0.9134,1)" font-size="32.19" text-anchor="middle" >4</text>
<text transform="translate(799.40,1632.40) scale(0.9134,1)" font-size="32.19" text-anchor="middle" >2</text>
<text transform="translate(954.90,1632.40) scale(0.9134,1)" font-size="32.19" text-anchor="middle" >0</text>
<text transform="translate(527.70,1686.00) scale(0.9730,1)" font-size="37.10" text-anchor="middle" >Kinetic Energy [eV]</text>
<text transform="translate(478.70,1721.20) scale(0.9917,1)" font-size="34.38" text-anchor="middle" >(b)</text>
<text transform="translate(28.50,1248.30) rotate(-90) scale(0.9810,1)" font-size="36.79" text-anchor="middle" >Normalized Intensity [a.u]</text>
<line x1="245.5" y1="1432.4" x2="326.3" y2="1432.4" stroke="#c00000" stroke-width="4.7" stroke-linecap="round"/>
<line x1="245.5" y1="1484" x2="326.3" y2="1484" stroke="#2f63a0" stroke-width="4.7" stroke-linecap="round"/>
<text transform="translate(334.05,1445.55) scale(0.9592,1)" font-size="37.49" >BiVO<tspan font-size="24.75" dy="10.12">4</tspan></text>
<text transform="translate(334.05,1497.15) scale(0.9592,1)" font-size="37.49" >Mo:BiVO<tspan font-size="24.75" dy="10.12">4</tspan><tspan dy="-10.12"> 15% O</tspan><tspan font-size="24.75" dy="10.12">2</tspan></text>
<text transform="translate(728.50,1568.25) scale(0.9737,1)" font-size="37.96" text-anchor="middle" font-weight="bold" fill="#2f63a0" >2.19</text>
<text transform="translate(836.90,1548.10) scale(0.9340,1)" font-size="39.07" text-anchor="middle" font-weight="bold" fill="#c00000" >1.89</text>
</g>
<g id="plot-c">
<polyline points="121.7,1892 127.9,1895.2 121.9,1898.4 127.9,1901.6 120.7,1904.8 128,1908 122.1,1911.2 128.6,1914.4 121.2,1917.6 127.4,1920.8 122,1924 128.6,1927.2 120.9,1930.4 128.8,1933.6 122.5,1936.8 127.9,1940 121.3,1943.2 128.4,1946.4 122.4,1949.6 127.4,1952.8 121.1,1956 127.7,1959.2 122,1962.4 127.4,1965.6 121.6,1968.8 128,1972 123.2,1974.9 125.6,1976.6 127.2,1978.2 130.4,1979.8 132.1,1981.5 134.9,1983.7 136.6,1985.9 138.7,1988.1 141.6,1989 143.5,1989.9 146.9,1990.8 149,1991.8 151.8,1992.7 154.1,1993.6 157.1,1994.2 159,1994.9 162.2,1995.5 163.9,1996.1 166.2,1996.7 169.3,1997.4 171.8,1998 174.9,1998.2 177.6,1998.5 180.3,1998.7 182.4,1998.9 185.6,1999.2 187.8,1999.4 189.9,1999.6 193.2,1999.8 196,2000.1 198.3,2000.3 201.5,2001.4 204.9,2002.5 207.6,2002.9 209.7,2003.2 212.3,2003.6 215.1,2004 217.7,2004.3 220.3,2004.7 222.7,2005.2 224.7,2005.7 227.1,2006.2 229.9,2006.7 232.8,2007.1 235.3,2007.6 237.2,2008.1 239.7,2008.6 242.4,2009.1 244.9,2009.6 246.9,2010.1 249.9,2010.6 252.7,2011.1 254.3,2011.5 257.2,2012 259.9,2012.5 262.3,2013 264.5,2013.5 267.7,2014.6 270.6,2015.7 273.3,2016.8 275.5,2017.3 278.7,2017.7 281.4,2018.2 282.8,2018.7 286.4,2019.2 288.3,2019.6 290.9,2020.1 287.1,2021.8 284.3,2023.4 286.4,2024.7 289.8,2026.1 292,2027.4 289.9,2028.3 286.9,2029.1 284.9,2030 282.7,2030.8 280.8,2031.7 277.7,2032.5 275.5,2033.4 273.1,2034.2 269.7,2035.1 266.9,2035.9 264.5,2036.7 261.5,2037.6 259.2,2038.5 256.9,2039.5 253.9,2040.4 251.2,2041.3 249,2042.2 246.1,2042.7 243.5,2043.1 241.1,2043.6 238.7,2044.1 236.4,2044.6 233.5,2045 231.4,2045.5 228.6,2046.9 225.8,2048.2 223.6,2049.6 220.3,2051 218.1,2052.4 216.4,2053.8 213.7,2055.1 211.5,2056.5 212.2,2059.2 213.7,2062 216.6,2063.1 218.8,2064.2 221.6,2065.4 224.7,2066.5 226.7,2067 230,2067.4 232.8,2067.9 234.7,2068.4 237.2,2068.9 239.8,2069.3 242.4,2069.8 244.7,2070.4 247.5,2071 249.6,2071.6 251.8,2072.2 255.1,2072.9 257.2,2073.5 259,2074.1 262.5,2074.7 264.5,2075.3 267.3,2075.6 269.4,2076 272.3,2076.3 275.2,2076.7 277.1,2077 279.7,2077.3 282.1,2077.7 284.9,2078 287.6,2078.3 290.2,2078.7 293,2079 294.6,2079.4 297.6,2079.7 300.2,2079.9 303.6,2080.2 306.3,2080.4 308.9,2080.7 311.8,2080.9 314.2,2081.2 317.7,2081.4 320,2081.7 322.5,2082 324.9,2082.4 327.1,2082.7 329.5,2083 332.9,2083.4 335.3,2083.7 336.9,2084 339.7,2084.3 342.4,2084.7 344.9,2085 347.2,2085.3 350.4,2085.7 352.2,2086 354.9,2086.3 357.9,2086.7 360,2087 362.3,2087.3 364.6,2087.7 367.2,2088 369.9,2088.3 372.6,2088.7 374.5,2089 377.1,2089.3 379.6,2089.6 382.1,2090 385.2,2090.3 387.3,2090.6 389.4,2091 392.2,2091.3 394.5,2091.5 397.6,2091.8 399.3,2092 402.4,2092.3 404.1,2092.5 406.8,2092.8 409.1,2093 412.5,2093.3 414.2,2093.5 416.8,2093.8 419.1,2094 421.8,2094.3 424.8,2094.5 427.3,2094.8 430,2095 432.6,2095.3 434.6,2095.5 437.5,2095.8 439,2096 442.5,2096.3 444.4,2096.5 446.6,2096.8 449.8,2097 452.4,2097.3 454.3,2097.5 456.4,2097.8 459.9,2098 462.2,2098.3 464.4,2098.5 467.1,2098.7 470.1,2098.9 471.5,2099 474.1,2099.2 476.7,2099.4 479.2,2099.6 482.6,2099.8 485,2099.9 487,2100.1 489.6,2100.3 492.2,2100.5 495.2,2100.7 497.9,2100.9 500.8,2101 502.6,2101.2 505.9,2101.4 507.8,2101.6 510.3,2101.8 512.7,2101.9 515.3,2102.1 518.7,2102.3 521.3,2102.5 523.5,2102.7 525.4,2102.9 528,2103 530.5,2103.2 533.3,2103.4 536.3,2103.6 538.1,2103.8 541.2,2103.9 544,2104.1 546.3,2104.3 548.2,2104.6 551.2,2104.8 554.1,2105.1 556.3,2105.4 558.7,2105.6 561.7,2105.9 563.8,2106.2 566,2106.4 568.6,2106.7 571.7,2107 574.1,2107.2 576.7,2107.5 578.7,2107.8 580.7,2108 583.3,2108.3 586,2108.5 588.9,2108.8 590.5,2109.1 594,2109.3 596.4,2109.6 598.6,2109.9 600.5,2110.1 603.9,2110.4 605.9,2110.7 608.7,2110.9 611.1,2111.2 613.8,2111.5 615.9,2111.7 618.5,2112 621.5,2112.6 623.9,2113.2 626.3,2113.7 628.4,2114.3 630.5,2114.9 633,2115.5 635.3,2116.1 638.5,2116.7 640.8,2117.2 643.3,2117.8 645.7,2118.4 648.4,2119 650.5,2119.6 652.5,2120.2 655.4,2120.7 657.3,2121.3 660,2121.9 662.7,2122 664.7,2122.2 668,2122.3 670.1,2122.5 672.4,2122.6 675.7,2122.7 677.2,2122.9 680.8,2123 683.1,2123.2 685.3,2123.3 686.7,2126.1 688.9,2126.3 692.2,2126.5 694.6,2126.7 697.6,2127 699.8,2127.2 702.2,2127.4 704.9,2127.6 702.6,2128 698.8,2128.4 696.8,2128.9 693.2,2129.3 690.9,2129.7 693.1,2129.9 695.4,2130.2 698.8,2130.4 700.8,2130.6 703.7,2130.9 705.6,2131.1 708.7,2131.3 711.1,2131.6 713.4,2131.8 715.3,2133 718.1,2134.1 720.4,2135.3 718.1,2135.6 715,2135.9 713,2136.1 710,2136.4 707.7,2136.7 710.1,2137 713.4,2137.3 716,2137.6 718.6,2137.9 720.5,2138.2 723.2,2138.4 726.1,2138.7 728.6,2139 730.8,2139.3 733.9,2139.6 735.9,2139.9 738.6,2140.2 740.5,2142.3 741.4,2144.4 744,2144.8 746.2,2145.3 749.6,2145.8 752,2146.2 748.9,2146.7 746.8,2147.3 743.3,2147.8 741.7,2148.4 738.5,2148.9 736,2149.5 733,2150 735.2,2150.2 738.5,2150.3 740.9,2150.5 743.4,2150.7 746.8,2150.8 748.5,2151 751.7,2151.1 754,2151.3 757.6,2151.5 760.3,2151.6 762.5,2151.8 759.8,2153.4 758.3,2154.9 755.5,2155.8 752.7,2156.8 749.9,2157.7 753,2159.1 755.5,2160.6 758.6,2161 760.9,2161.3 764.5,2161.7 766.4,2162 769.1,2162.4 772.8,2162.7 775.2,2163.1 772.2,2163.3 769.8,2163.5 767.7,2163.7 765,2163.9 762.3,2164 760.7,2164.2 757.7,2164.4 755.5,2164.6 752.7,2164.8 755.1,2165 758.5,2165.2 760.4,2165.4 763.9,2165.6 766.2,2165.9 769.3,2166.1 771.7,2166.3 774.2,2166.5 776.8,2166.7 779.4,2166.9 777.2,2167.2 774.1,2167.5 771.1,2167.8 769.4,2168.1 766.7,2168.4 763.9,2168.7 761.1,2169 764.2,2169.2 766.4,2169.5 769.5,2169.7 772.7,2170 775.7,2170.2 778.5,2170.5 780.8,2170.7 777.8,2171 775.8,2171.2 773,2171.5 770.2,2171.7 767.3,2172 764.7,2172.2 762.5,2172.5 763.9,2176 766.5,2176.4 769.2,2176.8 771.6,2177.2 774.4,2177.6 777.3,2177.9 780.2,2178.3 782.7,2178.7 784.9,2179.1 788.4,2179.5 790.6,2179.9 787.6,2180.7 785.6,2181.4 782.8,2182.2 779.4,2183 782.5,2184.3 786.4,2185.6 783.7,2186 781.3,2186.5 777.8,2186.9 775.2,2187.3 772.1,2187.7 768.9,2188.2 766.7,2188.6 763.8,2188.8 761.2,2188.9 758.9,2189.1 756.8,2189.2 754.2,2189.4 752.1,2189.5 749.3,2189.7 746.4,2189.8 744.6,2190 741.7,2190.1 739.1,2190.3 736.9,2190.4 734.2,2190.6 731.3,2190.7 729.1,2190.9 726.2,2191 723.9,2191.2 727.1,2191.3 728.9,2191.4 732.4,2191.4 734,2191.5 736.5,2191.6 739.8,2191.7 742.1,2191.7 745.1,2191.8 747.3,2191.9 750.8,2192 753.2,2192 755.9,2192.1 758.3,2192.2 760.7,2194.3 762.6,2196.4 763.9,2198.5 761.4,2198.9 758.8,2199.3 755.3,2199.8 752.7,2200.2 750.5,2200.6 748.4,2201 745,2201.4 742.6,2201.9 739.3,2202.3 737.2,2202.7 739.7,2203.2 742.8,2203.6 745.1,2204.1 747.9,2204.6 749.5,2205 752.7,2205.5 753.4,2208.3 750.4,2208.6 747.8,2208.9 745.9,2209.1 742.4,2209.4 740.8,2209.7 737.4,2210 735.5,2210.3 732.5,2210.6 729.6,2210.8 727.8,2211.1 724.6,2211.4 721.8,2213.9 719.2,2214.2 717.1,2214.5 713.8,2214.8 712.3,2215.1 710,2215.4 706.4,2215.7 704.7,2216.1 701.6,2216.4 699,2216.7 696.8,2217 694.7,2217.3 692.5,2217.6 689.5,2217.9 692.6,2218.5 695.1,2219.1 697.2,2219.7 699.8,2220.3 702.1,2220.9 698.9,2221.7 696.8,2222.5 693.8,2223.3 690.7,2224.1 688.1,2224.9 691.4,2225.5 693.4,2226.1 696.1,2226.7 699.3,2227.3 696.4,2227.7 693.9,2228 691.9,2228.3 689.6,2228.7 686.4,2229.1 684.3,2229.4 681.8,2229.8 679.3,2230.1 676.6,2230.4 674.3,2230.8 671.1,2231.2 668.7,2231.5 666.6,2231.8 664.2,2232.2 661.4,2233.8 659.6,2235.3 656.8,2236.9 659.1,2237.7 662,2238.5 659.9,2238.8 656.7,2239.1 654.1,2239.5 652,2239.8 649.4,2240.1 646.9,2240.4 644.9,2240.7 641.8,2241.1 639.8,2241.4 637.5,2241.7 634.6,2242 632.2,2242.3 630.2,2242.7 627.3,2243 624.7,2243.3 628,2245.5 624.9,2246.2 622.1,2246.9 619.4,2247.6 617,2248.3 614,2249 611.8,2249.7 609.3,2250.1 606.4,2250.5 603.5,2250.9 601.1,2251.3 598.9,2251.7 595.4,2252.1 592.7,2252.6 590.2,2253 587.5,2253.4 585.5,2253.8 582.6,2254.2 579.7,2254.6 583,2256.5 579.7,2257.9 576.5,2259.4 573.6,2259.9 570.9,2260.4 568.5,2260.9 566.8,2261.4 564,2261.9 560.9,2262.4 558.9,2262.9 555.7,2263.4 553.7,2263.9 551,2264.5 548.2,2265 546.4,2265.5 543.8,2266 541.1,2266.5 538.1,2267 536.2,2267.5 533.4,2268 531.1,2268.5 528.4,2269 532,2271 529,2271.3 527.4,2271.6 523.8,2271.9 521.5,2272.3 519.1,2272.6 516.3,2272.9 513.7,2273.2 511.8,2273.5 509.6,2273.8 506.3,2274.1 503.7,2274.5 501.6,2274.8 498.5,2275.1 496.3,2275.4 500,2277.5 497.4,2277.8 495.2,2278.1 492.3,2278.3 489.9,2278.6 486.9,2279.1 484.2,2279.6 482.2,2280 480.2,2280.5 477.6,2281 474,2281.5 471.9,2282 469.3,2282.4 466.4,2282.9 464.2,2283.4 461.8,2284.7 459.1,2286 456.9,2287.3 453.7,2288.6 451.4,2289.9 455,2292 453,2292.5 450.3,2293 447.3,2293.4 444.4,2293.9 442.3,2294.4 439.3,2294.9 437.4,2295.3 434.9,2295.8 432.1,2296.3 436,2299 433.5,2299.9 431.4,2300.8 427.7,2301.8 425.7,2302.7 423.3,2303.4 420.7,2304 417.2,2304.7 414.8,2305.4 411.8,2306.1 409.7,2306.8 407.2,2307.4 404.3,2308.1 402.1,2309.6 400.5,2311.1 398.1,2312.6 396.3,2314.1 397.9,2316.8 398.7,2319.4 400.3,2322.1 398.6,2323.3 395.7,2324.4 392.8,2325.6 390.7,2326.7 389.1,2327.9 387,2329 384.3,2330.2 387,2330.9 388.9,2331.7 392.2,2332.4 394.3,2333.2 391.9,2334 388.5,2334.9 386.1,2335.7 383.8,2336.5 380.3,2337.4 378.2,2338.2 380.2,2339.2 383.1,2340.2 386.2,2341.2 388.3,2342.2 386.4,2343.7 383,2345.2 381.2,2346.7 378.2,2348.2 376,2349.2 373.5,2350.2 370.6,2351.2 368.5,2352.2 365.5,2353.2 363.3,2354.2 360.2,2355.2 362.8,2356.4 364.8,2357.7 367.7,2358.9 370.2,2360.2 367.4,2360.6 364.4,2361 361.6,2361.4 359,2361.8 356.2,2362.2 354.3,2363.9 351.8,2365.6 349.9,2367.2 348.1,2368.9 346.1,2370.6 344.1,2372.3 341.6,2373.5 339.5,2374.7 336.5,2375.9 334.5,2377.1 332.1,2378.3 334.6,2378.7 337.9,2379.1 340.6,2379.4 343.5,2379.8 345.9,2380.2 348.4,2380.6 351.9,2380.9 354.2,2381.3 351.6,2381.7 348.9,2382.2 346.2,2382.6 343.7,2383 341.5,2383.4 339.1,2383.9 336.1,2384.3 333.6,2386.1 331.4,2387.8 328.3,2389.6 326.1,2391.3 328.7,2392.6 331.3,2394 334.1,2395.3 331.2,2396.3 328.6,2397.4 326.1,2398.4 329.1,2399.4 331.7,2400.4 334.1,2401.4 331.2,2402.8 328.8,2404.2 326.9,2405.6 324.1,2407" fill="none" stroke="#2f63a0" stroke-width="2.8" stroke-linejoin="round" stroke-linecap="round" />
<line x1="119.5" y1="1788.3" x2="935.7" y2="1788.3" stroke="#000" stroke-width="3" stroke-dasharray="5.8,14.3" stroke-dashoffset="1.5"/>
<line x1="121.7" y1="1955.9" x2="935.7" y2="1955.9" stroke="#000" stroke-width="3.5" stroke-dasharray="20,8.4,5,8.4"/>
<line x1="121.7" y1="1991.4" x2="935.7" y2="1991.4" stroke="#000" stroke-width="3.5" stroke-dasharray="20,8.4,5,8.4"/>
<line x1="119.5" y1="2058" x2="935.7" y2="2058" stroke="#000" stroke-width="4.6" />
<rect x="119.5" y="1750.8" width="816.2" height="657.5" fill="none" stroke="#000" stroke-width="3.2"/>
<line x1="119.5" y1="1788.3" x2="132.5" y2="1788.3" stroke="#000" stroke-width="2.8" />
<line x1="935.7" y1="1788.3" x2="922.7" y2="1788.3" stroke="#000" stroke-width="2.8" />
<line x1="119.5" y1="1825.8" x2="126.3" y2="1825.8" stroke="#000" stroke-width="2.8" />
<line x1="935.7" y1="1825.8" x2="928.9" y2="1825.8" stroke="#000" stroke-width="2.8" />
<line x1="119.5" y1="1863.4" x2="132.5" y2="1863.4" stroke="#000" stroke-width="2.8" />
<line x1="935.7" y1="1863.4" x2="922.7" y2="1863.4" stroke="#000" stroke-width="2.8" />
<line x1="119.5" y1="1901" x2="126.3" y2="1901" stroke="#000" stroke-width="2.8" />
<line x1="935.7" y1="1901" x2="928.9" y2="1901" stroke="#000" stroke-width="2.8" />
<line x1="119.5" y1="1938.5" x2="132.5" y2="1938.5" stroke="#000" stroke-width="2.8" />
<line x1="935.7" y1="1938.5" x2="922.7" y2="1938.5" stroke="#000" stroke-width="2.8" />
<line x1="119.5" y1="1976" x2="126.3" y2="1976" stroke="#000" stroke-width="2.8" />
<line x1="935.7" y1="1976" x2="928.9" y2="1976" stroke="#000" stroke-width="2.8" />
<line x1="119.5" y1="2013.6" x2="132.5" y2="2013.6" stroke="#000" stroke-width="2.8" />
<line x1="935.7" y1="2013.6" x2="922.7" y2="2013.6" stroke="#000" stroke-width="2.8" />
<line x1="119.5" y1="2051.2" x2="126.3" y2="2051.2" stroke="#000" stroke-width="2.8" />
<line x1="935.7" y1="2051.2" x2="928.9" y2="2051.2" stroke="#000" stroke-width="2.8" />
<line x1="119.5" y1="2088.7" x2="132.5" y2="2088.7" stroke="#000" stroke-width="2.8" />
<line x1="935.7" y1="2088.7" x2="922.7" y2="2088.7" stroke="#000" stroke-width="2.8" />
<line x1="119.5" y1="2126.2" x2="126.3" y2="2126.2" stroke="#000" stroke-width="2.8" />
<line x1="935.7" y1="2126.2" x2="928.9" y2="2126.2" stroke="#000" stroke-width="2.8" />
<line x1="119.5" y1="2163.8" x2="132.5" y2="2163.8" stroke="#000" stroke-width="2.8" />
<line x1="935.7" y1="2163.8" x2="922.7" y2="2163.8" stroke="#000" stroke-width="2.8" />
<line x1="119.5" y1="2201.3" x2="126.3" y2="2201.3" stroke="#000" stroke-width="2.8" />
<line x1="935.7" y1="2201.3" x2="928.9" y2="2201.3" stroke="#000" stroke-width="2.8" />
<line x1="119.5" y1="2238.9" x2="132.5" y2="2238.9" stroke="#000" stroke-width="2.8" />
<line x1="935.7" y1="2238.9" x2="922.7" y2="2238.9" stroke="#000" stroke-width="2.8" />
<line x1="119.5" y1="2276.4" x2="126.3" y2="2276.4" stroke="#000" stroke-width="2.8" />
<line x1="935.7" y1="2276.4" x2="928.9" y2="2276.4" stroke="#000" stroke-width="2.8" />
<line x1="119.5" y1="2314" x2="132.5" y2="2314" stroke="#000" stroke-width="2.8" />
<line x1="935.7" y1="2314" x2="922.7" y2="2314" stroke="#000" stroke-width="2.8" />
<line x1="119.5" y1="2351.6" x2="126.3" y2="2351.6" stroke="#000" stroke-width="2.8" />
<line x1="935.7" y1="2351.6" x2="928.9" y2="2351.6" stroke="#000" stroke-width="2.8" />
<line x1="119.5" y1="2389.1" x2="132.5" y2="2389.1" stroke="#000" stroke-width="2.8" />
<line x1="935.7" y1="2389.1" x2="922.7" y2="2389.1" stroke="#000" stroke-width="2.8" />
<text transform="translate(104.90,1796.40)" font-size="28.40" text-anchor="end" >0</text>
<text transform="translate(950.30,1796.40)" font-size="28.40" >0</text>
<text transform="translate(104.90,1871.50)" font-size="28.40" text-anchor="end" >−2</text>
<text transform="translate(950.30,1871.50)" font-size="28.40" >−2</text>
<text transform="translate(104.90,1946.60)" font-size="28.40" text-anchor="end" >−4</text>
<text transform="translate(950.30,1946.60)" font-size="28.40" >−4</text>
<text transform="translate(104.90,2021.70)" font-size="28.40" text-anchor="end" >−6</text>
<text transform="translate(950.30,2021.70)" font-size="28.40" >−6</text>
<text transform="translate(104.90,2096.80)" font-size="28.40" text-anchor="end" >−8</text>
<text transform="translate(950.30,2096.80)" font-size="28.40" >−8</text>
<text transform="translate(104.90,2171.90)" font-size="28.40" text-anchor="end" >−10</text>
<text transform="translate(950.30,2171.90)" font-size="28.40" >−10</text>
<text transform="translate(104.90,2247.00)" font-size="28.40" text-anchor="end" >−12</text>
<text transform="translate(950.30,2247.00)" font-size="28.40" >−12</text>
<text transform="translate(104.90,2322.10)" font-size="28.40" text-anchor="end" >−14</text>
<text transform="translate(950.30,2322.10)" font-size="28.40" >−14</text>
<text transform="translate(104.90,2397.20)" font-size="28.40" text-anchor="end" >−16</text>
<text transform="translate(950.30,2397.20)" font-size="28.40" >−16</text>
<text transform="translate(37.30,2078.50) rotate(-90) scale(0.9670,1)" font-size="35.30" text-anchor="middle" >Energy Relative to E<tspan font-size="25.06" dy="8.50">VAC</tspan><tspan dy="-8.5"> [eV]</tspan></text>
<text transform="translate(889.50,1827.30)" font-size="37.30" text-anchor="middle" font-weight="bold" >VL</text>
<text transform="translate(874.00,2099.00)" font-size="37.30" text-anchor="middle" font-weight="bold" >VBM</text>
<text transform="translate(479.00,1929.80)" font-size="36.60" font-weight="bold" >H<tspan font-size="24.89" dy="-14">+</tspan><tspan dy="14">/H</tspan><tspan font-size="25.80" dy="10.00">2</tspan></text>
<text transform="translate(475.50,2035.20)" font-size="36.60" font-weight="bold" >H<tspan font-size="25.80" dy="10.00">2</tspan><tspan dy="-10">O/O</tspan><tspan font-size="25.80" dy="10.00">2</tspan></text>
<line x1="648.4" y1="2313.3" x2="726.1" y2="2313.3" stroke="#2f63a0" stroke-width="2.9" />
<text transform="translate(734.40,2325.10) scale(0.9640,1)" font-size="35.50" >Mo:BiVO<tspan font-size="23.43" dy="9.59">4</tspan></text>
<text transform="translate(486.70,2457.60) scale(0.8840,1)" font-size="49.44" text-anchor="middle" >(c)</text>
</g>
</svg>
</body></html>
